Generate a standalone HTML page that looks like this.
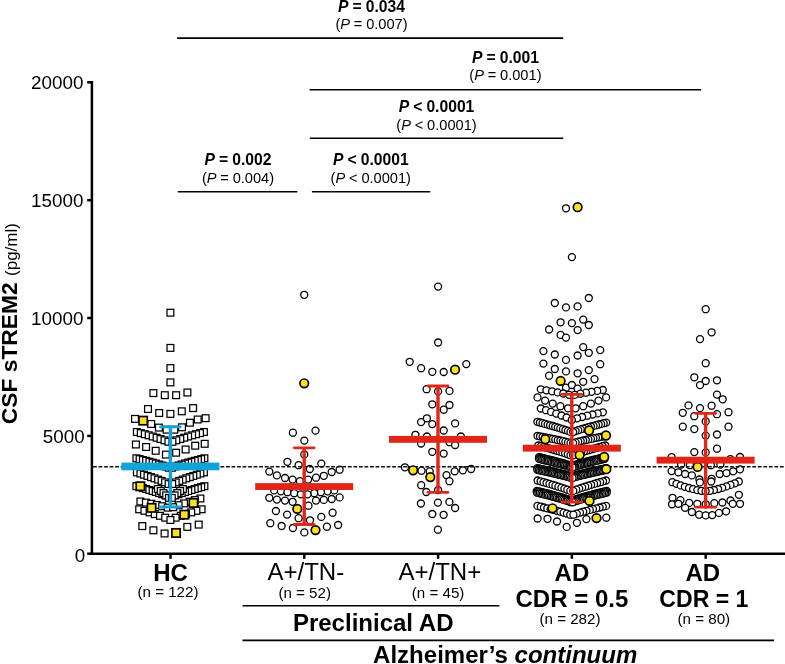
<!DOCTYPE html>
<html><head><meta charset="utf-8"><title>CSF sTREM2</title>
<style>html,body{margin:0;padding:0;background:#fff}svg{display:block}</style></head>
<body>
<svg width="785" height="664" viewBox="0 0 785 664" font-family="'Liberation Sans', Arial, Helvetica, sans-serif">
<rect width="785" height="664" fill="#fff"/>
<rect x="167.0" y="309.3" width="6.8" height="6.8" fill="#fff" stroke="#000" stroke-width="1.25"/>
<rect x="167.0" y="344.5" width="6.8" height="6.8" fill="#fff" stroke="#000" stroke-width="1.25"/>
<rect x="167.0" y="364.7" width="6.8" height="6.8" fill="#fff" stroke="#000" stroke-width="1.25"/>
<rect x="167.0" y="379.0" width="6.8" height="6.8" fill="#fff" stroke="#000" stroke-width="1.25"/>
<rect x="150.0" y="389.7" width="6.8" height="6.8" fill="#fff" stroke="#000" stroke-width="1.25"/>
<rect x="161.4" y="391.8" width="6.8" height="6.8" fill="#fff" stroke="#000" stroke-width="1.25"/>
<rect x="172.7" y="391.8" width="6.8" height="6.8" fill="#fff" stroke="#000" stroke-width="1.25"/>
<rect x="184.0" y="389.1" width="6.8" height="6.8" fill="#fff" stroke="#000" stroke-width="1.25"/>
<rect x="144.6" y="405.6" width="6.8" height="6.8" fill="#fff" stroke="#000" stroke-width="1.25"/>
<rect x="155.8" y="409.6" width="6.8" height="6.8" fill="#fff" stroke="#000" stroke-width="1.25"/>
<rect x="167.0" y="410.5" width="6.8" height="6.8" fill="#fff" stroke="#000" stroke-width="1.25"/>
<rect x="178.4" y="407.9" width="6.8" height="6.8" fill="#fff" stroke="#000" stroke-width="1.25"/>
<rect x="189.7" y="404.7" width="6.8" height="6.8" fill="#fff" stroke="#000" stroke-width="1.25"/>
<rect x="131.6" y="415.5" width="6.8" height="6.8" fill="#fff" stroke="#000" stroke-width="1.25"/>
<rect x="147.8" y="420.6" width="6.8" height="6.8" fill="#fff" stroke="#000" stroke-width="1.25"/>
<rect x="155.5" y="424.2" width="6.8" height="6.8" fill="#fff" stroke="#000" stroke-width="1.25"/>
<rect x="163.2" y="426.3" width="6.8" height="6.8" fill="#fff" stroke="#000" stroke-width="1.25"/>
<rect x="170.9" y="426.3" width="6.8" height="6.8" fill="#fff" stroke="#000" stroke-width="1.25"/>
<rect x="178.6" y="423.9" width="6.8" height="6.8" fill="#fff" stroke="#000" stroke-width="1.25"/>
<rect x="186.5" y="419.3" width="6.8" height="6.8" fill="#fff" stroke="#000" stroke-width="1.25"/>
<rect x="194.3" y="416.1" width="6.8" height="6.8" fill="#fff" stroke="#000" stroke-width="1.25"/>
<rect x="202.2" y="414.8" width="6.8" height="6.8" fill="#fff" stroke="#000" stroke-width="1.25"/>
<rect x="133.5" y="428.6" width="6.8" height="6.8" fill="#fff" stroke="#000" stroke-width="1.25"/>
<rect x="200.5" y="428.6" width="6.8" height="6.8" fill="#fff" stroke="#000" stroke-width="1.25"/>
<rect x="137.4" y="429.7" width="6.8" height="6.8" fill="#fff" stroke="#000" stroke-width="1.25"/>
<rect x="196.6" y="429.7" width="6.8" height="6.8" fill="#fff" stroke="#000" stroke-width="1.25"/>
<rect x="141.4" y="430.8" width="6.8" height="6.8" fill="#fff" stroke="#000" stroke-width="1.25"/>
<rect x="192.6" y="430.8" width="6.8" height="6.8" fill="#fff" stroke="#000" stroke-width="1.25"/>
<rect x="145.3" y="431.9" width="6.8" height="6.8" fill="#fff" stroke="#000" stroke-width="1.25"/>
<rect x="188.7" y="431.9" width="6.8" height="6.8" fill="#fff" stroke="#000" stroke-width="1.25"/>
<rect x="149.3" y="433.1" width="6.8" height="6.8" fill="#fff" stroke="#000" stroke-width="1.25"/>
<rect x="184.7" y="433.1" width="6.8" height="6.8" fill="#fff" stroke="#000" stroke-width="1.25"/>
<rect x="153.2" y="434.3" width="6.8" height="6.8" fill="#fff" stroke="#000" stroke-width="1.25"/>
<rect x="180.8" y="434.3" width="6.8" height="6.8" fill="#fff" stroke="#000" stroke-width="1.25"/>
<rect x="157.1" y="435.6" width="6.8" height="6.8" fill="#fff" stroke="#000" stroke-width="1.25"/>
<rect x="176.9" y="435.6" width="6.8" height="6.8" fill="#fff" stroke="#000" stroke-width="1.25"/>
<rect x="161.1" y="436.9" width="6.8" height="6.8" fill="#fff" stroke="#000" stroke-width="1.25"/>
<rect x="172.9" y="436.9" width="6.8" height="6.8" fill="#fff" stroke="#000" stroke-width="1.25"/>
<rect x="165.0" y="438.4" width="6.8" height="6.8" fill="#fff" stroke="#000" stroke-width="1.25"/>
<rect x="169.0" y="438.4" width="6.8" height="6.8" fill="#fff" stroke="#000" stroke-width="1.25"/>
<rect x="132.5" y="441.1" width="6.8" height="6.8" fill="#fff" stroke="#000" stroke-width="1.25"/>
<rect x="142.7" y="443.6" width="6.8" height="6.8" fill="#fff" stroke="#000" stroke-width="1.25"/>
<rect x="152.3" y="447.4" width="6.8" height="6.8" fill="#fff" stroke="#000" stroke-width="1.25"/>
<rect x="162.5" y="451.2" width="6.8" height="6.8" fill="#fff" stroke="#000" stroke-width="1.25"/>
<rect x="172.7" y="449.3" width="6.8" height="6.8" fill="#fff" stroke="#000" stroke-width="1.25"/>
<rect x="182.2" y="446.1" width="6.8" height="6.8" fill="#fff" stroke="#000" stroke-width="1.25"/>
<rect x="191.8" y="442.3" width="6.8" height="6.8" fill="#fff" stroke="#000" stroke-width="1.25"/>
<rect x="201.3" y="440.4" width="6.8" height="6.8" fill="#fff" stroke="#000" stroke-width="1.25"/>
<rect x="133.0" y="454.9" width="6.8" height="6.8" fill="#fff" stroke="#000" stroke-width="1.25"/>
<rect x="201.0" y="454.9" width="6.8" height="6.8" fill="#fff" stroke="#000" stroke-width="1.25"/>
<rect x="136.2" y="455.7" width="6.8" height="6.8" fill="#fff" stroke="#000" stroke-width="1.25"/>
<rect x="197.8" y="455.7" width="6.8" height="6.8" fill="#fff" stroke="#000" stroke-width="1.25"/>
<rect x="139.5" y="456.6" width="6.8" height="6.8" fill="#fff" stroke="#000" stroke-width="1.25"/>
<rect x="194.5" y="456.6" width="6.8" height="6.8" fill="#fff" stroke="#000" stroke-width="1.25"/>
<rect x="142.7" y="457.4" width="6.8" height="6.8" fill="#fff" stroke="#000" stroke-width="1.25"/>
<rect x="191.3" y="457.4" width="6.8" height="6.8" fill="#fff" stroke="#000" stroke-width="1.25"/>
<rect x="188.0" y="458.3" width="6.8" height="6.8" fill="#fff" stroke="#000" stroke-width="1.25"/>
<rect x="146.0" y="458.3" width="6.8" height="6.8" fill="#fff" stroke="#000" stroke-width="1.25"/>
<rect x="149.2" y="459.2" width="6.8" height="6.8" fill="#fff" stroke="#000" stroke-width="1.25"/>
<rect x="184.8" y="459.2" width="6.8" height="6.8" fill="#fff" stroke="#000" stroke-width="1.25"/>
<rect x="152.4" y="460.1" width="6.8" height="6.8" fill="#fff" stroke="#000" stroke-width="1.25"/>
<rect x="181.6" y="460.1" width="6.8" height="6.8" fill="#fff" stroke="#000" stroke-width="1.25"/>
<rect x="155.7" y="461.1" width="6.8" height="6.8" fill="#fff" stroke="#000" stroke-width="1.25"/>
<rect x="178.3" y="461.1" width="6.8" height="6.8" fill="#fff" stroke="#000" stroke-width="1.25"/>
<rect x="158.9" y="462.1" width="6.8" height="6.8" fill="#fff" stroke="#000" stroke-width="1.25"/>
<rect x="175.1" y="462.1" width="6.8" height="6.8" fill="#fff" stroke="#000" stroke-width="1.25"/>
<rect x="162.1" y="463.1" width="6.8" height="6.8" fill="#fff" stroke="#000" stroke-width="1.25"/>
<rect x="171.9" y="463.1" width="6.8" height="6.8" fill="#fff" stroke="#000" stroke-width="1.25"/>
<rect x="165.4" y="464.3" width="6.8" height="6.8" fill="#fff" stroke="#000" stroke-width="1.25"/>
<rect x="168.6" y="464.3" width="6.8" height="6.8" fill="#fff" stroke="#000" stroke-width="1.25"/>
<rect x="133.5" y="469.0" width="6.8" height="6.8" fill="#fff" stroke="#000" stroke-width="1.25"/>
<rect x="200.5" y="469.0" width="6.8" height="6.8" fill="#fff" stroke="#000" stroke-width="1.25"/>
<rect x="137.0" y="470.1" width="6.8" height="6.8" fill="#fff" stroke="#000" stroke-width="1.25"/>
<rect x="197.0" y="470.1" width="6.8" height="6.8" fill="#fff" stroke="#000" stroke-width="1.25"/>
<rect x="140.6" y="471.3" width="6.8" height="6.8" fill="#fff" stroke="#000" stroke-width="1.25"/>
<rect x="193.4" y="471.3" width="6.8" height="6.8" fill="#fff" stroke="#000" stroke-width="1.25"/>
<rect x="144.1" y="472.5" width="6.8" height="6.8" fill="#fff" stroke="#000" stroke-width="1.25"/>
<rect x="189.9" y="472.5" width="6.8" height="6.8" fill="#fff" stroke="#000" stroke-width="1.25"/>
<rect x="147.6" y="473.7" width="6.8" height="6.8" fill="#fff" stroke="#000" stroke-width="1.25"/>
<rect x="186.4" y="473.7" width="6.8" height="6.8" fill="#fff" stroke="#000" stroke-width="1.25"/>
<rect x="151.1" y="474.9" width="6.8" height="6.8" fill="#fff" stroke="#000" stroke-width="1.25"/>
<rect x="182.9" y="474.9" width="6.8" height="6.8" fill="#fff" stroke="#000" stroke-width="1.25"/>
<rect x="154.7" y="476.2" width="6.8" height="6.8" fill="#fff" stroke="#000" stroke-width="1.25"/>
<rect x="179.3" y="476.2" width="6.8" height="6.8" fill="#fff" stroke="#000" stroke-width="1.25"/>
<rect x="158.2" y="477.5" width="6.8" height="6.8" fill="#fff" stroke="#000" stroke-width="1.25"/>
<rect x="175.8" y="477.5" width="6.8" height="6.8" fill="#fff" stroke="#000" stroke-width="1.25"/>
<rect x="161.7" y="479.0" width="6.8" height="6.8" fill="#fff" stroke="#000" stroke-width="1.25"/>
<rect x="172.3" y="479.0" width="6.8" height="6.8" fill="#fff" stroke="#000" stroke-width="1.25"/>
<rect x="165.2" y="480.6" width="6.8" height="6.8" fill="#fff" stroke="#000" stroke-width="1.25"/>
<rect x="168.8" y="480.6" width="6.8" height="6.8" fill="#fff" stroke="#000" stroke-width="1.25"/>
<rect x="133.0" y="482.8" width="6.8" height="6.8" fill="#fff" stroke="#000" stroke-width="1.25"/>
<rect x="201.0" y="482.8" width="6.8" height="6.8" fill="#fff" stroke="#000" stroke-width="1.25"/>
<rect x="197.8" y="483.7" width="6.8" height="6.8" fill="#fff" stroke="#000" stroke-width="1.25"/>
<rect x="139.5" y="484.7" width="6.8" height="6.8" fill="#fff" stroke="#000" stroke-width="1.25"/>
<rect x="194.5" y="484.7" width="6.8" height="6.8" fill="#fff" stroke="#000" stroke-width="1.25"/>
<rect x="142.7" y="485.6" width="6.8" height="6.8" fill="#fff" stroke="#000" stroke-width="1.25"/>
<rect x="191.3" y="485.6" width="6.8" height="6.8" fill="#fff" stroke="#000" stroke-width="1.25"/>
<rect x="188.0" y="486.6" width="6.8" height="6.8" fill="#fff" stroke="#000" stroke-width="1.25"/>
<rect x="146.0" y="486.6" width="6.8" height="6.8" fill="#fff" stroke="#000" stroke-width="1.25"/>
<rect x="149.2" y="487.6" width="6.8" height="6.8" fill="#fff" stroke="#000" stroke-width="1.25"/>
<rect x="184.8" y="487.6" width="6.8" height="6.8" fill="#fff" stroke="#000" stroke-width="1.25"/>
<rect x="152.4" y="488.6" width="6.8" height="6.8" fill="#fff" stroke="#000" stroke-width="1.25"/>
<rect x="181.6" y="488.6" width="6.8" height="6.8" fill="#fff" stroke="#000" stroke-width="1.25"/>
<rect x="155.7" y="489.7" width="6.8" height="6.8" fill="#fff" stroke="#000" stroke-width="1.25"/>
<rect x="178.3" y="489.7" width="6.8" height="6.8" fill="#fff" stroke="#000" stroke-width="1.25"/>
<rect x="158.9" y="490.8" width="6.8" height="6.8" fill="#fff" stroke="#000" stroke-width="1.25"/>
<rect x="175.1" y="490.8" width="6.8" height="6.8" fill="#fff" stroke="#000" stroke-width="1.25"/>
<rect x="162.1" y="491.9" width="6.8" height="6.8" fill="#fff" stroke="#000" stroke-width="1.25"/>
<rect x="171.9" y="491.9" width="6.8" height="6.8" fill="#fff" stroke="#000" stroke-width="1.25"/>
<rect x="165.4" y="493.3" width="6.8" height="6.8" fill="#fff" stroke="#000" stroke-width="1.25"/>
<rect x="168.6" y="493.3" width="6.8" height="6.8" fill="#fff" stroke="#000" stroke-width="1.25"/>
<rect x="154.5" y="485.6" width="6.8" height="6.8" fill="#fff" stroke="#000" stroke-width="1.25"/>
<rect x="179.5" y="485.6" width="6.8" height="6.8" fill="#fff" stroke="#000" stroke-width="1.25"/>
<rect x="157.3" y="487.6" width="6.8" height="6.8" fill="#fff" stroke="#000" stroke-width="1.25"/>
<rect x="176.7" y="487.6" width="6.8" height="6.8" fill="#fff" stroke="#000" stroke-width="1.25"/>
<rect x="160.1" y="489.7" width="6.8" height="6.8" fill="#fff" stroke="#000" stroke-width="1.25"/>
<rect x="173.9" y="489.7" width="6.8" height="6.8" fill="#fff" stroke="#000" stroke-width="1.25"/>
<rect x="162.8" y="492.0" width="6.8" height="6.8" fill="#fff" stroke="#000" stroke-width="1.25"/>
<rect x="171.2" y="492.0" width="6.8" height="6.8" fill="#fff" stroke="#000" stroke-width="1.25"/>
<rect x="165.6" y="494.5" width="6.8" height="6.8" fill="#fff" stroke="#000" stroke-width="1.25"/>
<rect x="168.4" y="494.5" width="6.8" height="6.8" fill="#fff" stroke="#000" stroke-width="1.25"/>
<rect x="197.0" y="495.1" width="6.8" height="6.8" fill="#fff" stroke="#000" stroke-width="1.25"/>
<rect x="191.5" y="496.7" width="6.8" height="6.8" fill="#fff" stroke="#000" stroke-width="1.25"/>
<rect x="137.0" y="498.1" width="6.8" height="6.8" fill="#fff" stroke="#000" stroke-width="1.25"/>
<rect x="142.5" y="499.2" width="6.8" height="6.8" fill="#fff" stroke="#000" stroke-width="1.25"/>
<rect x="186.1" y="498.3" width="6.8" height="6.8" fill="#fff" stroke="#000" stroke-width="1.25"/>
<rect x="147.9" y="500.3" width="6.8" height="6.8" fill="#fff" stroke="#000" stroke-width="1.25"/>
<rect x="153.4" y="501.5" width="6.8" height="6.8" fill="#fff" stroke="#000" stroke-width="1.25"/>
<rect x="180.6" y="500.0" width="6.8" height="6.8" fill="#fff" stroke="#000" stroke-width="1.25"/>
<rect x="158.8" y="502.8" width="6.8" height="6.8" fill="#fff" stroke="#000" stroke-width="1.25"/>
<rect x="175.2" y="501.8" width="6.8" height="6.8" fill="#fff" stroke="#000" stroke-width="1.25"/>
<rect x="164.3" y="504.2" width="6.8" height="6.8" fill="#fff" stroke="#000" stroke-width="1.25"/>
<rect x="169.7" y="503.8" width="6.8" height="6.8" fill="#fff" stroke="#000" stroke-width="1.25"/>
<rect x="135.8" y="505.9" width="6.8" height="6.8" fill="#fff" stroke="#000" stroke-width="1.25"/>
<rect x="198.2" y="505.9" width="6.8" height="6.8" fill="#fff" stroke="#000" stroke-width="1.25"/>
<rect x="141.0" y="507.4" width="6.8" height="6.8" fill="#fff" stroke="#000" stroke-width="1.25"/>
<rect x="193.0" y="507.4" width="6.8" height="6.8" fill="#fff" stroke="#000" stroke-width="1.25"/>
<rect x="146.2" y="509.0" width="6.8" height="6.8" fill="#fff" stroke="#000" stroke-width="1.25"/>
<rect x="187.8" y="509.0" width="6.8" height="6.8" fill="#fff" stroke="#000" stroke-width="1.25"/>
<rect x="151.4" y="510.7" width="6.8" height="6.8" fill="#fff" stroke="#000" stroke-width="1.25"/>
<rect x="182.6" y="510.7" width="6.8" height="6.8" fill="#fff" stroke="#000" stroke-width="1.25"/>
<rect x="156.6" y="512.4" width="6.8" height="6.8" fill="#fff" stroke="#000" stroke-width="1.25"/>
<rect x="177.4" y="512.4" width="6.8" height="6.8" fill="#fff" stroke="#000" stroke-width="1.25"/>
<rect x="161.8" y="514.3" width="6.8" height="6.8" fill="#fff" stroke="#000" stroke-width="1.25"/>
<rect x="172.2" y="514.3" width="6.8" height="6.8" fill="#fff" stroke="#000" stroke-width="1.25"/>
<rect x="167.0" y="516.6" width="6.8" height="6.8" fill="#fff" stroke="#000" stroke-width="1.25"/>
<rect x="138.9" y="522.7" width="6.8" height="6.8" fill="#fff" stroke="#000" stroke-width="1.25"/>
<rect x="150.0" y="526.9" width="6.8" height="6.8" fill="#fff" stroke="#000" stroke-width="1.25"/>
<rect x="161.2" y="530.1" width="6.8" height="6.8" fill="#fff" stroke="#000" stroke-width="1.25"/>
<rect x="183.9" y="523.5" width="6.8" height="6.8" fill="#fff" stroke="#000" stroke-width="1.25"/>
<rect x="195.3" y="521.2" width="6.8" height="6.8" fill="#fff" stroke="#000" stroke-width="1.25"/>
<circle cx="304.2" cy="294.8" r="3.5" fill="#fff" stroke="#000" stroke-width="1.3"/>
<circle cx="292.9" cy="432.7" r="3.5" fill="#fff" stroke="#000" stroke-width="1.3"/>
<circle cx="315.5" cy="430.6" r="3.5" fill="#fff" stroke="#000" stroke-width="1.3"/>
<circle cx="304.3" cy="440.6" r="3.5" fill="#fff" stroke="#000" stroke-width="1.3"/>
<circle cx="304.3" cy="454.4" r="3.5" fill="#fff" stroke="#000" stroke-width="1.3"/>
<circle cx="287.4" cy="461.8" r="3.5" fill="#fff" stroke="#000" stroke-width="1.3"/>
<circle cx="298.6" cy="465.2" r="3.5" fill="#fff" stroke="#000" stroke-width="1.3"/>
<circle cx="309.8" cy="469.0" r="3.5" fill="#fff" stroke="#000" stroke-width="1.3"/>
<circle cx="321.3" cy="463.6" r="3.5" fill="#fff" stroke="#000" stroke-width="1.3"/>
<circle cx="269.3" cy="471.6" r="3.5" fill="#fff" stroke="#000" stroke-width="1.3"/>
<circle cx="276.9" cy="475.4" r="3.5" fill="#fff" stroke="#000" stroke-width="1.3"/>
<circle cx="285.0" cy="478.0" r="3.5" fill="#fff" stroke="#000" stroke-width="1.3"/>
<circle cx="292.6" cy="479.6" r="3.5" fill="#fff" stroke="#000" stroke-width="1.3"/>
<circle cx="299.9" cy="481.1" r="3.5" fill="#fff" stroke="#000" stroke-width="1.3"/>
<circle cx="308.1" cy="479.6" r="3.5" fill="#fff" stroke="#000" stroke-width="1.3"/>
<circle cx="316.0" cy="477.7" r="3.5" fill="#fff" stroke="#000" stroke-width="1.3"/>
<circle cx="323.8" cy="475.8" r="3.5" fill="#fff" stroke="#000" stroke-width="1.3"/>
<circle cx="331.7" cy="472.0" r="3.5" fill="#fff" stroke="#000" stroke-width="1.3"/>
<circle cx="339.6" cy="469.7" r="3.5" fill="#fff" stroke="#000" stroke-width="1.3"/>
<circle cx="274.2" cy="490.4" r="3.5" fill="#fff" stroke="#000" stroke-width="1.3"/>
<circle cx="334.2" cy="490.4" r="3.5" fill="#fff" stroke="#000" stroke-width="1.3"/>
<circle cx="280.9" cy="491.3" r="3.5" fill="#fff" stroke="#000" stroke-width="1.3"/>
<circle cx="327.5" cy="491.3" r="3.5" fill="#fff" stroke="#000" stroke-width="1.3"/>
<circle cx="287.5" cy="492.2" r="3.5" fill="#fff" stroke="#000" stroke-width="1.3"/>
<circle cx="320.9" cy="492.2" r="3.5" fill="#fff" stroke="#000" stroke-width="1.3"/>
<circle cx="294.2" cy="493.2" r="3.5" fill="#fff" stroke="#000" stroke-width="1.3"/>
<circle cx="314.2" cy="493.2" r="3.5" fill="#fff" stroke="#000" stroke-width="1.3"/>
<circle cx="300.9" cy="494.3" r="3.5" fill="#fff" stroke="#000" stroke-width="1.3"/>
<circle cx="307.5" cy="494.3" r="3.5" fill="#fff" stroke="#000" stroke-width="1.3"/>
<circle cx="269.3" cy="497.8" r="3.5" fill="#fff" stroke="#000" stroke-width="1.3"/>
<circle cx="276.9" cy="499.6" r="3.5" fill="#fff" stroke="#000" stroke-width="1.3"/>
<circle cx="285.0" cy="500.6" r="3.5" fill="#fff" stroke="#000" stroke-width="1.3"/>
<circle cx="292.6" cy="501.8" r="3.5" fill="#fff" stroke="#000" stroke-width="1.3"/>
<circle cx="308.5" cy="505.7" r="3.5" fill="#fff" stroke="#000" stroke-width="1.3"/>
<circle cx="316.0" cy="500.6" r="3.5" fill="#fff" stroke="#000" stroke-width="1.3"/>
<circle cx="323.8" cy="499.9" r="3.5" fill="#fff" stroke="#000" stroke-width="1.3"/>
<circle cx="331.7" cy="499.0" r="3.5" fill="#fff" stroke="#000" stroke-width="1.3"/>
<circle cx="339.6" cy="497.4" r="3.5" fill="#fff" stroke="#000" stroke-width="1.3"/>
<circle cx="275.9" cy="511.0" r="3.5" fill="#fff" stroke="#000" stroke-width="1.3"/>
<circle cx="287.1" cy="514.6" r="3.5" fill="#fff" stroke="#000" stroke-width="1.3"/>
<circle cx="298.6" cy="518.2" r="3.5" fill="#fff" stroke="#000" stroke-width="1.3"/>
<circle cx="310.0" cy="520.3" r="3.5" fill="#fff" stroke="#000" stroke-width="1.3"/>
<circle cx="321.3" cy="516.9" r="3.5" fill="#fff" stroke="#000" stroke-width="1.3"/>
<circle cx="332.6" cy="512.7" r="3.5" fill="#fff" stroke="#000" stroke-width="1.3"/>
<circle cx="270.3" cy="523.2" r="3.5" fill="#fff" stroke="#000" stroke-width="1.3"/>
<circle cx="281.6" cy="526.0" r="3.5" fill="#fff" stroke="#000" stroke-width="1.3"/>
<circle cx="292.9" cy="528.0" r="3.5" fill="#fff" stroke="#000" stroke-width="1.3"/>
<circle cx="304.3" cy="532.4" r="3.5" fill="#fff" stroke="#000" stroke-width="1.3"/>
<circle cx="326.9" cy="526.7" r="3.5" fill="#fff" stroke="#000" stroke-width="1.3"/>
<circle cx="338.1" cy="525.0" r="3.5" fill="#fff" stroke="#000" stroke-width="1.3"/>
<circle cx="438.1" cy="286.6" r="3.5" fill="#fff" stroke="#000" stroke-width="1.3"/>
<circle cx="438.1" cy="342.5" r="3.5" fill="#fff" stroke="#000" stroke-width="1.3"/>
<circle cx="409.7" cy="361.8" r="3.5" fill="#fff" stroke="#000" stroke-width="1.3"/>
<circle cx="421.1" cy="368.2" r="3.5" fill="#fff" stroke="#000" stroke-width="1.3"/>
<circle cx="432.3" cy="371.8" r="3.5" fill="#fff" stroke="#000" stroke-width="1.3"/>
<circle cx="443.7" cy="372.0" r="3.5" fill="#fff" stroke="#000" stroke-width="1.3"/>
<circle cx="466.3" cy="364.1" r="3.5" fill="#fff" stroke="#000" stroke-width="1.3"/>
<circle cx="426.6" cy="389.2" r="3.5" fill="#fff" stroke="#000" stroke-width="1.3"/>
<circle cx="438.1" cy="391.4" r="3.5" fill="#fff" stroke="#000" stroke-width="1.3"/>
<circle cx="449.5" cy="390.9" r="3.5" fill="#fff" stroke="#000" stroke-width="1.3"/>
<circle cx="432.3" cy="404.3" r="3.5" fill="#fff" stroke="#000" stroke-width="1.3"/>
<circle cx="443.7" cy="409.7" r="3.5" fill="#fff" stroke="#000" stroke-width="1.3"/>
<circle cx="449.5" cy="405.0" r="3.5" fill="#fff" stroke="#000" stroke-width="1.3"/>
<circle cx="421.1" cy="422.1" r="3.5" fill="#fff" stroke="#000" stroke-width="1.3"/>
<circle cx="426.9" cy="418.3" r="3.5" fill="#fff" stroke="#000" stroke-width="1.3"/>
<circle cx="432.3" cy="424.1" r="3.5" fill="#fff" stroke="#000" stroke-width="1.3"/>
<circle cx="443.7" cy="430.5" r="3.5" fill="#fff" stroke="#000" stroke-width="1.3"/>
<circle cx="455.1" cy="423.4" r="3.5" fill="#fff" stroke="#000" stroke-width="1.3"/>
<circle cx="415.4" cy="434.8" r="3.5" fill="#fff" stroke="#000" stroke-width="1.3"/>
<circle cx="426.9" cy="436.5" r="3.5" fill="#fff" stroke="#000" stroke-width="1.3"/>
<circle cx="460.9" cy="436.5" r="3.5" fill="#fff" stroke="#000" stroke-width="1.3"/>
<circle cx="421.1" cy="443.5" r="3.5" fill="#fff" stroke="#000" stroke-width="1.3"/>
<circle cx="449.5" cy="442.2" r="3.5" fill="#fff" stroke="#000" stroke-width="1.3"/>
<circle cx="455.1" cy="445.0" r="3.5" fill="#fff" stroke="#000" stroke-width="1.3"/>
<circle cx="432.3" cy="451.8" r="3.5" fill="#fff" stroke="#000" stroke-width="1.3"/>
<circle cx="443.7" cy="453.6" r="3.5" fill="#fff" stroke="#000" stroke-width="1.3"/>
<circle cx="404.9" cy="467.3" r="3.5" fill="#fff" stroke="#000" stroke-width="1.3"/>
<circle cx="421.5" cy="470.7" r="3.5" fill="#fff" stroke="#000" stroke-width="1.3"/>
<circle cx="429.7" cy="471.4" r="3.5" fill="#fff" stroke="#000" stroke-width="1.3"/>
<circle cx="446.5" cy="475.1" r="3.5" fill="#fff" stroke="#000" stroke-width="1.3"/>
<circle cx="454.7" cy="471.3" r="3.5" fill="#fff" stroke="#000" stroke-width="1.3"/>
<circle cx="462.9" cy="470.3" r="3.5" fill="#fff" stroke="#000" stroke-width="1.3"/>
<circle cx="471.1" cy="469.0" r="3.5" fill="#fff" stroke="#000" stroke-width="1.3"/>
<circle cx="449.4" cy="481.2" r="3.5" fill="#fff" stroke="#000" stroke-width="1.3"/>
<circle cx="421.2" cy="485.2" r="3.5" fill="#fff" stroke="#000" stroke-width="1.3"/>
<circle cx="426.3" cy="492.0" r="3.5" fill="#fff" stroke="#000" stroke-width="1.3"/>
<circle cx="438.1" cy="490.0" r="3.5" fill="#fff" stroke="#000" stroke-width="1.3"/>
<circle cx="420.9" cy="503.5" r="3.5" fill="#fff" stroke="#000" stroke-width="1.3"/>
<circle cx="437.9" cy="502.6" r="3.5" fill="#fff" stroke="#000" stroke-width="1.3"/>
<circle cx="449.4" cy="501.9" r="3.5" fill="#fff" stroke="#000" stroke-width="1.3"/>
<circle cx="455.1" cy="508.0" r="3.5" fill="#fff" stroke="#000" stroke-width="1.3"/>
<circle cx="432.3" cy="514.0" r="3.5" fill="#fff" stroke="#000" stroke-width="1.3"/>
<circle cx="443.6" cy="514.8" r="3.5" fill="#fff" stroke="#000" stroke-width="1.3"/>
<circle cx="437.9" cy="529.7" r="3.5" fill="#fff" stroke="#000" stroke-width="1.3"/>
<circle cx="566.0" cy="208.3" r="3.5" fill="#fff" stroke="#000" stroke-width="1.3"/>
<circle cx="571.9" cy="257.1" r="3.5" fill="#fff" stroke="#000" stroke-width="1.3"/>
<circle cx="554.8" cy="303.0" r="3.5" fill="#fff" stroke="#000" stroke-width="1.3"/>
<circle cx="566.0" cy="307.4" r="3.5" fill="#fff" stroke="#000" stroke-width="1.3"/>
<circle cx="577.6" cy="306.4" r="3.5" fill="#fff" stroke="#000" stroke-width="1.3"/>
<circle cx="588.8" cy="298.0" r="3.5" fill="#fff" stroke="#000" stroke-width="1.3"/>
<circle cx="560.6" cy="322.3" r="3.5" fill="#fff" stroke="#000" stroke-width="1.3"/>
<circle cx="571.9" cy="323.1" r="3.5" fill="#fff" stroke="#000" stroke-width="1.3"/>
<circle cx="583.2" cy="319.6" r="3.5" fill="#fff" stroke="#000" stroke-width="1.3"/>
<circle cx="588.8" cy="325.0" r="3.5" fill="#fff" stroke="#000" stroke-width="1.3"/>
<circle cx="549.1" cy="329.5" r="3.5" fill="#fff" stroke="#000" stroke-width="1.3"/>
<circle cx="560.6" cy="334.9" r="3.5" fill="#fff" stroke="#000" stroke-width="1.3"/>
<circle cx="566.0" cy="337.6" r="3.5" fill="#fff" stroke="#000" stroke-width="1.3"/>
<circle cx="577.6" cy="330.1" r="3.5" fill="#fff" stroke="#000" stroke-width="1.3"/>
<circle cx="543.4" cy="351.1" r="3.5" fill="#fff" stroke="#000" stroke-width="1.3"/>
<circle cx="554.8" cy="354.5" r="3.5" fill="#fff" stroke="#000" stroke-width="1.3"/>
<circle cx="566.0" cy="359.9" r="3.5" fill="#fff" stroke="#000" stroke-width="1.3"/>
<circle cx="577.6" cy="355.5" r="3.5" fill="#fff" stroke="#000" stroke-width="1.3"/>
<circle cx="583.2" cy="347.1" r="3.5" fill="#fff" stroke="#000" stroke-width="1.3"/>
<circle cx="588.8" cy="352.8" r="3.5" fill="#fff" stroke="#000" stroke-width="1.3"/>
<circle cx="600.2" cy="350.1" r="3.5" fill="#fff" stroke="#000" stroke-width="1.3"/>
<circle cx="543.4" cy="363.6" r="3.5" fill="#fff" stroke="#000" stroke-width="1.3"/>
<circle cx="554.8" cy="369.0" r="3.5" fill="#fff" stroke="#000" stroke-width="1.3"/>
<circle cx="566.0" cy="371.4" r="3.5" fill="#fff" stroke="#000" stroke-width="1.3"/>
<circle cx="577.6" cy="373.3" r="3.5" fill="#fff" stroke="#000" stroke-width="1.3"/>
<circle cx="588.8" cy="370.1" r="3.5" fill="#fff" stroke="#000" stroke-width="1.3"/>
<circle cx="600.2" cy="364.2" r="3.5" fill="#fff" stroke="#000" stroke-width="1.3"/>
<circle cx="549.1" cy="375.7" r="3.5" fill="#fff" stroke="#000" stroke-width="1.3"/>
<circle cx="566.0" cy="387.7" r="3.5" fill="#fff" stroke="#000" stroke-width="1.3"/>
<circle cx="571.9" cy="385.0" r="3.5" fill="#fff" stroke="#000" stroke-width="1.3"/>
<circle cx="577.6" cy="388.6" r="3.5" fill="#fff" stroke="#000" stroke-width="1.3"/>
<circle cx="583.2" cy="381.8" r="3.5" fill="#fff" stroke="#000" stroke-width="1.3"/>
<circle cx="594.5" cy="379.1" r="3.5" fill="#fff" stroke="#000" stroke-width="1.3"/>
<circle cx="540.8" cy="389.3" r="3.5" fill="#fff" stroke="#000" stroke-width="1.3"/>
<circle cx="602.8" cy="390.0" r="3.5" fill="#fff" stroke="#000" stroke-width="1.3"/>
<circle cx="546.4" cy="390.3" r="3.5" fill="#fff" stroke="#000" stroke-width="1.3"/>
<circle cx="597.2" cy="390.9" r="3.5" fill="#fff" stroke="#000" stroke-width="1.3"/>
<circle cx="552.1" cy="391.3" r="3.5" fill="#fff" stroke="#000" stroke-width="1.3"/>
<circle cx="591.5" cy="391.8" r="3.5" fill="#fff" stroke="#000" stroke-width="1.3"/>
<circle cx="557.7" cy="392.4" r="3.5" fill="#fff" stroke="#000" stroke-width="1.3"/>
<circle cx="585.9" cy="392.7" r="3.5" fill="#fff" stroke="#000" stroke-width="1.3"/>
<circle cx="563.3" cy="393.5" r="3.5" fill="#fff" stroke="#000" stroke-width="1.3"/>
<circle cx="580.3" cy="393.7" r="3.5" fill="#fff" stroke="#000" stroke-width="1.3"/>
<circle cx="569.0" cy="394.8" r="3.5" fill="#fff" stroke="#000" stroke-width="1.3"/>
<circle cx="574.6" cy="394.9" r="3.5" fill="#fff" stroke="#000" stroke-width="1.3"/>
<circle cx="537.5" cy="397.4" r="3.5" fill="#fff" stroke="#000" stroke-width="1.3"/>
<circle cx="606.1" cy="397.4" r="3.5" fill="#fff" stroke="#000" stroke-width="1.3"/>
<circle cx="545.1" cy="400.6" r="3.5" fill="#fff" stroke="#000" stroke-width="1.3"/>
<circle cx="598.5" cy="400.6" r="3.5" fill="#fff" stroke="#000" stroke-width="1.3"/>
<circle cx="552.7" cy="403.6" r="3.5" fill="#fff" stroke="#000" stroke-width="1.3"/>
<circle cx="590.9" cy="403.6" r="3.5" fill="#fff" stroke="#000" stroke-width="1.3"/>
<circle cx="560.4" cy="406.2" r="3.5" fill="#fff" stroke="#000" stroke-width="1.3"/>
<circle cx="583.2" cy="406.2" r="3.5" fill="#fff" stroke="#000" stroke-width="1.3"/>
<circle cx="568.0" cy="408.3" r="3.5" fill="#fff" stroke="#000" stroke-width="1.3"/>
<circle cx="575.6" cy="408.3" r="3.5" fill="#fff" stroke="#000" stroke-width="1.3"/>
<circle cx="540.8" cy="408.5" r="3.5" fill="#fff" stroke="#000" stroke-width="1.3"/>
<circle cx="546.0" cy="410.2" r="3.5" fill="#fff" stroke="#000" stroke-width="1.3"/>
<circle cx="602.8" cy="412.3" r="3.5" fill="#fff" stroke="#000" stroke-width="1.3"/>
<circle cx="551.1" cy="411.9" r="3.5" fill="#fff" stroke="#000" stroke-width="1.3"/>
<circle cx="597.6" cy="413.4" r="3.5" fill="#fff" stroke="#000" stroke-width="1.3"/>
<circle cx="592.5" cy="414.5" r="3.5" fill="#fff" stroke="#000" stroke-width="1.3"/>
<circle cx="556.3" cy="413.6" r="3.5" fill="#fff" stroke="#000" stroke-width="1.3"/>
<circle cx="587.3" cy="415.7" r="3.5" fill="#fff" stroke="#000" stroke-width="1.3"/>
<circle cx="561.5" cy="415.5" r="3.5" fill="#fff" stroke="#000" stroke-width="1.3"/>
<circle cx="582.1" cy="417.0" r="3.5" fill="#fff" stroke="#000" stroke-width="1.3"/>
<circle cx="566.6" cy="417.5" r="3.5" fill="#fff" stroke="#000" stroke-width="1.3"/>
<circle cx="577.0" cy="418.3" r="3.5" fill="#fff" stroke="#000" stroke-width="1.3"/>
<circle cx="571.8" cy="420.0" r="3.5" fill="#fff" stroke="#000" stroke-width="1.3"/>
<circle cx="537.4" cy="421.8" r="3.5" fill="#fff" stroke="#000" stroke-width="1.3"/>
<circle cx="606.2" cy="422.6" r="3.5" fill="#fff" stroke="#000" stroke-width="1.3"/>
<circle cx="539.9" cy="422.5" r="3.5" fill="#fff" stroke="#000" stroke-width="1.3"/>
<circle cx="603.7" cy="423.2" r="3.5" fill="#fff" stroke="#000" stroke-width="1.3"/>
<circle cx="542.5" cy="423.2" r="3.5" fill="#fff" stroke="#000" stroke-width="1.3"/>
<circle cx="601.1" cy="423.9" r="3.5" fill="#fff" stroke="#000" stroke-width="1.3"/>
<circle cx="545.0" cy="423.9" r="3.5" fill="#fff" stroke="#000" stroke-width="1.3"/>
<circle cx="598.6" cy="424.5" r="3.5" fill="#fff" stroke="#000" stroke-width="1.3"/>
<circle cx="547.6" cy="424.6" r="3.5" fill="#fff" stroke="#000" stroke-width="1.3"/>
<circle cx="596.0" cy="425.2" r="3.5" fill="#fff" stroke="#000" stroke-width="1.3"/>
<circle cx="550.1" cy="425.3" r="3.5" fill="#fff" stroke="#000" stroke-width="1.3"/>
<circle cx="593.5" cy="425.9" r="3.5" fill="#fff" stroke="#000" stroke-width="1.3"/>
<circle cx="552.7" cy="426.0" r="3.5" fill="#fff" stroke="#000" stroke-width="1.3"/>
<circle cx="590.9" cy="426.5" r="3.5" fill="#fff" stroke="#000" stroke-width="1.3"/>
<circle cx="555.2" cy="426.8" r="3.5" fill="#fff" stroke="#000" stroke-width="1.3"/>
<circle cx="588.4" cy="427.2" r="3.5" fill="#fff" stroke="#000" stroke-width="1.3"/>
<circle cx="557.8" cy="427.6" r="3.5" fill="#fff" stroke="#000" stroke-width="1.3"/>
<circle cx="585.8" cy="427.9" r="3.5" fill="#fff" stroke="#000" stroke-width="1.3"/>
<circle cx="560.3" cy="428.4" r="3.5" fill="#fff" stroke="#000" stroke-width="1.3"/>
<circle cx="583.3" cy="428.7" r="3.5" fill="#fff" stroke="#000" stroke-width="1.3"/>
<circle cx="562.9" cy="429.2" r="3.5" fill="#fff" stroke="#000" stroke-width="1.3"/>
<circle cx="580.7" cy="429.4" r="3.5" fill="#fff" stroke="#000" stroke-width="1.3"/>
<circle cx="565.4" cy="430.0" r="3.5" fill="#fff" stroke="#000" stroke-width="1.3"/>
<circle cx="578.2" cy="430.2" r="3.5" fill="#fff" stroke="#000" stroke-width="1.3"/>
<circle cx="568.0" cy="430.9" r="3.5" fill="#fff" stroke="#000" stroke-width="1.3"/>
<circle cx="575.6" cy="431.1" r="3.5" fill="#fff" stroke="#000" stroke-width="1.3"/>
<circle cx="570.5" cy="431.9" r="3.5" fill="#fff" stroke="#000" stroke-width="1.3"/>
<circle cx="573.1" cy="432.0" r="3.5" fill="#fff" stroke="#000" stroke-width="1.3"/>
<circle cx="537.5" cy="435.8" r="3.5" fill="#fff" stroke="#000" stroke-width="1.3"/>
<circle cx="606.1" cy="435.8" r="3.5" fill="#fff" stroke="#000" stroke-width="1.3"/>
<circle cx="540.0" cy="436.3" r="3.5" fill="#fff" stroke="#000" stroke-width="1.3"/>
<circle cx="603.6" cy="436.3" r="3.5" fill="#fff" stroke="#000" stroke-width="1.3"/>
<circle cx="542.6" cy="436.8" r="3.5" fill="#fff" stroke="#000" stroke-width="1.3"/>
<circle cx="601.0" cy="436.8" r="3.5" fill="#fff" stroke="#000" stroke-width="1.3"/>
<circle cx="545.1" cy="437.3" r="3.5" fill="#fff" stroke="#000" stroke-width="1.3"/>
<circle cx="598.5" cy="437.3" r="3.5" fill="#fff" stroke="#000" stroke-width="1.3"/>
<circle cx="547.7" cy="437.8" r="3.5" fill="#fff" stroke="#000" stroke-width="1.3"/>
<circle cx="595.9" cy="437.8" r="3.5" fill="#fff" stroke="#000" stroke-width="1.3"/>
<circle cx="550.2" cy="438.3" r="3.5" fill="#fff" stroke="#000" stroke-width="1.3"/>
<circle cx="593.4" cy="438.3" r="3.5" fill="#fff" stroke="#000" stroke-width="1.3"/>
<circle cx="552.7" cy="438.9" r="3.5" fill="#fff" stroke="#000" stroke-width="1.3"/>
<circle cx="590.9" cy="438.9" r="3.5" fill="#fff" stroke="#000" stroke-width="1.3"/>
<circle cx="555.3" cy="439.4" r="3.5" fill="#fff" stroke="#000" stroke-width="1.3"/>
<circle cx="588.3" cy="439.4" r="3.5" fill="#fff" stroke="#000" stroke-width="1.3"/>
<circle cx="557.8" cy="440.0" r="3.5" fill="#fff" stroke="#000" stroke-width="1.3"/>
<circle cx="585.8" cy="440.0" r="3.5" fill="#fff" stroke="#000" stroke-width="1.3"/>
<circle cx="560.4" cy="440.5" r="3.5" fill="#fff" stroke="#000" stroke-width="1.3"/>
<circle cx="583.2" cy="440.5" r="3.5" fill="#fff" stroke="#000" stroke-width="1.3"/>
<circle cx="562.9" cy="441.1" r="3.5" fill="#fff" stroke="#000" stroke-width="1.3"/>
<circle cx="580.7" cy="441.1" r="3.5" fill="#fff" stroke="#000" stroke-width="1.3"/>
<circle cx="565.4" cy="441.7" r="3.5" fill="#fff" stroke="#000" stroke-width="1.3"/>
<circle cx="578.2" cy="441.7" r="3.5" fill="#fff" stroke="#000" stroke-width="1.3"/>
<circle cx="568.0" cy="442.4" r="3.5" fill="#fff" stroke="#000" stroke-width="1.3"/>
<circle cx="575.6" cy="442.4" r="3.5" fill="#fff" stroke="#000" stroke-width="1.3"/>
<circle cx="570.5" cy="443.1" r="3.5" fill="#fff" stroke="#000" stroke-width="1.3"/>
<circle cx="573.1" cy="443.1" r="3.5" fill="#fff" stroke="#000" stroke-width="1.3"/>
<circle cx="538.3" cy="445.5" r="3.5" fill="#fff" stroke="#000" stroke-width="1.3"/>
<circle cx="605.3" cy="445.5" r="3.5" fill="#fff" stroke="#000" stroke-width="1.3"/>
<circle cx="541.0" cy="446.2" r="3.5" fill="#fff" stroke="#000" stroke-width="1.3"/>
<circle cx="602.6" cy="446.2" r="3.5" fill="#fff" stroke="#000" stroke-width="1.3"/>
<circle cx="543.7" cy="446.9" r="3.5" fill="#fff" stroke="#000" stroke-width="1.3"/>
<circle cx="599.9" cy="446.9" r="3.5" fill="#fff" stroke="#000" stroke-width="1.3"/>
<circle cx="546.3" cy="447.7" r="3.5" fill="#fff" stroke="#000" stroke-width="1.3"/>
<circle cx="597.3" cy="447.7" r="3.5" fill="#fff" stroke="#000" stroke-width="1.3"/>
<circle cx="549.0" cy="448.4" r="3.5" fill="#fff" stroke="#000" stroke-width="1.3"/>
<circle cx="594.6" cy="448.4" r="3.5" fill="#fff" stroke="#000" stroke-width="1.3"/>
<circle cx="551.7" cy="449.2" r="3.5" fill="#fff" stroke="#000" stroke-width="1.3"/>
<circle cx="591.9" cy="449.2" r="3.5" fill="#fff" stroke="#000" stroke-width="1.3"/>
<circle cx="554.4" cy="450.0" r="3.5" fill="#fff" stroke="#000" stroke-width="1.3"/>
<circle cx="589.2" cy="450.0" r="3.5" fill="#fff" stroke="#000" stroke-width="1.3"/>
<circle cx="557.1" cy="450.8" r="3.5" fill="#fff" stroke="#000" stroke-width="1.3"/>
<circle cx="586.5" cy="450.8" r="3.5" fill="#fff" stroke="#000" stroke-width="1.3"/>
<circle cx="559.7" cy="451.6" r="3.5" fill="#fff" stroke="#000" stroke-width="1.3"/>
<circle cx="583.9" cy="451.6" r="3.5" fill="#fff" stroke="#000" stroke-width="1.3"/>
<circle cx="562.4" cy="452.4" r="3.5" fill="#fff" stroke="#000" stroke-width="1.3"/>
<circle cx="581.2" cy="452.4" r="3.5" fill="#fff" stroke="#000" stroke-width="1.3"/>
<circle cx="565.1" cy="453.3" r="3.5" fill="#fff" stroke="#000" stroke-width="1.3"/>
<circle cx="578.5" cy="453.3" r="3.5" fill="#fff" stroke="#000" stroke-width="1.3"/>
<circle cx="567.8" cy="454.3" r="3.5" fill="#fff" stroke="#000" stroke-width="1.3"/>
<circle cx="575.8" cy="454.3" r="3.5" fill="#fff" stroke="#000" stroke-width="1.3"/>
<circle cx="570.5" cy="455.3" r="3.5" fill="#fff" stroke="#000" stroke-width="1.3"/>
<circle cx="573.1" cy="455.3" r="3.5" fill="#fff" stroke="#000" stroke-width="1.3"/>
<circle cx="539.0" cy="457.2" r="3.5" fill="#fff" stroke="#000" stroke-width="1.3"/>
<circle cx="539.0" cy="458.8" r="3.5" fill="#fff" stroke="#000" stroke-width="1.3"/>
<circle cx="604.6" cy="457.2" r="3.5" fill="#fff" stroke="#000" stroke-width="1.3"/>
<circle cx="604.6" cy="458.8" r="3.5" fill="#fff" stroke="#000" stroke-width="1.3"/>
<circle cx="540.5" cy="457.5" r="3.5" fill="#fff" stroke="#000" stroke-width="1.3"/>
<circle cx="603.1" cy="457.5" r="3.5" fill="#fff" stroke="#000" stroke-width="1.3"/>
<circle cx="541.9" cy="457.9" r="3.5" fill="#fff" stroke="#000" stroke-width="1.3"/>
<circle cx="601.7" cy="457.9" r="3.5" fill="#fff" stroke="#000" stroke-width="1.3"/>
<circle cx="543.4" cy="458.2" r="3.5" fill="#fff" stroke="#000" stroke-width="1.3"/>
<circle cx="600.2" cy="458.2" r="3.5" fill="#fff" stroke="#000" stroke-width="1.3"/>
<circle cx="544.8" cy="458.6" r="3.5" fill="#fff" stroke="#000" stroke-width="1.3"/>
<circle cx="598.8" cy="458.6" r="3.5" fill="#fff" stroke="#000" stroke-width="1.3"/>
<circle cx="546.3" cy="458.9" r="3.5" fill="#fff" stroke="#000" stroke-width="1.3"/>
<circle cx="597.3" cy="458.9" r="3.5" fill="#fff" stroke="#000" stroke-width="1.3"/>
<circle cx="540.5" cy="459.1" r="3.5" fill="#fff" stroke="#000" stroke-width="1.3"/>
<circle cx="603.1" cy="459.1" r="3.5" fill="#fff" stroke="#000" stroke-width="1.3"/>
<circle cx="541.9" cy="459.5" r="3.5" fill="#fff" stroke="#000" stroke-width="1.3"/>
<circle cx="601.7" cy="459.5" r="3.5" fill="#fff" stroke="#000" stroke-width="1.3"/>
<circle cx="543.4" cy="459.8" r="3.5" fill="#fff" stroke="#000" stroke-width="1.3"/>
<circle cx="600.2" cy="459.8" r="3.5" fill="#fff" stroke="#000" stroke-width="1.3"/>
<circle cx="544.8" cy="460.2" r="3.5" fill="#fff" stroke="#000" stroke-width="1.3"/>
<circle cx="598.8" cy="460.2" r="3.5" fill="#fff" stroke="#000" stroke-width="1.3"/>
<circle cx="546.3" cy="460.5" r="3.5" fill="#fff" stroke="#000" stroke-width="1.3"/>
<circle cx="597.3" cy="460.5" r="3.5" fill="#fff" stroke="#000" stroke-width="1.3"/>
<circle cx="547.7" cy="459.3" r="3.5" fill="#fff" stroke="#000" stroke-width="1.3"/>
<circle cx="547.7" cy="460.9" r="3.5" fill="#fff" stroke="#000" stroke-width="1.3"/>
<circle cx="595.9" cy="459.3" r="3.5" fill="#fff" stroke="#000" stroke-width="1.3"/>
<circle cx="595.9" cy="460.9" r="3.5" fill="#fff" stroke="#000" stroke-width="1.3"/>
<circle cx="549.2" cy="459.6" r="3.5" fill="#fff" stroke="#000" stroke-width="1.3"/>
<circle cx="594.4" cy="459.6" r="3.5" fill="#fff" stroke="#000" stroke-width="1.3"/>
<circle cx="550.7" cy="460.0" r="3.5" fill="#fff" stroke="#000" stroke-width="1.3"/>
<circle cx="592.9" cy="460.0" r="3.5" fill="#fff" stroke="#000" stroke-width="1.3"/>
<circle cx="552.1" cy="460.4" r="3.5" fill="#fff" stroke="#000" stroke-width="1.3"/>
<circle cx="591.5" cy="460.4" r="3.5" fill="#fff" stroke="#000" stroke-width="1.3"/>
<circle cx="553.6" cy="460.7" r="3.5" fill="#fff" stroke="#000" stroke-width="1.3"/>
<circle cx="590.0" cy="460.7" r="3.5" fill="#fff" stroke="#000" stroke-width="1.3"/>
<circle cx="549.2" cy="461.2" r="3.5" fill="#fff" stroke="#000" stroke-width="1.3"/>
<circle cx="594.4" cy="461.2" r="3.5" fill="#fff" stroke="#000" stroke-width="1.3"/>
<circle cx="550.7" cy="461.6" r="3.5" fill="#fff" stroke="#000" stroke-width="1.3"/>
<circle cx="592.9" cy="461.6" r="3.5" fill="#fff" stroke="#000" stroke-width="1.3"/>
<circle cx="552.1" cy="462.0" r="3.5" fill="#fff" stroke="#000" stroke-width="1.3"/>
<circle cx="591.5" cy="462.0" r="3.5" fill="#fff" stroke="#000" stroke-width="1.3"/>
<circle cx="553.6" cy="462.3" r="3.5" fill="#fff" stroke="#000" stroke-width="1.3"/>
<circle cx="590.0" cy="462.3" r="3.5" fill="#fff" stroke="#000" stroke-width="1.3"/>
<circle cx="555.0" cy="461.1" r="3.5" fill="#fff" stroke="#000" stroke-width="1.3"/>
<circle cx="555.0" cy="462.7" r="3.5" fill="#fff" stroke="#000" stroke-width="1.3"/>
<circle cx="588.6" cy="461.1" r="3.5" fill="#fff" stroke="#000" stroke-width="1.3"/>
<circle cx="588.6" cy="462.7" r="3.5" fill="#fff" stroke="#000" stroke-width="1.3"/>
<circle cx="556.5" cy="461.5" r="3.5" fill="#fff" stroke="#000" stroke-width="1.3"/>
<circle cx="587.1" cy="461.5" r="3.5" fill="#fff" stroke="#000" stroke-width="1.3"/>
<circle cx="558.0" cy="461.9" r="3.5" fill="#fff" stroke="#000" stroke-width="1.3"/>
<circle cx="585.6" cy="461.9" r="3.5" fill="#fff" stroke="#000" stroke-width="1.3"/>
<circle cx="559.4" cy="462.3" r="3.5" fill="#fff" stroke="#000" stroke-width="1.3"/>
<circle cx="584.2" cy="462.3" r="3.5" fill="#fff" stroke="#000" stroke-width="1.3"/>
<circle cx="560.9" cy="462.7" r="3.5" fill="#fff" stroke="#000" stroke-width="1.3"/>
<circle cx="582.7" cy="462.7" r="3.5" fill="#fff" stroke="#000" stroke-width="1.3"/>
<circle cx="556.5" cy="463.1" r="3.5" fill="#fff" stroke="#000" stroke-width="1.3"/>
<circle cx="587.1" cy="463.1" r="3.5" fill="#fff" stroke="#000" stroke-width="1.3"/>
<circle cx="558.0" cy="463.5" r="3.5" fill="#fff" stroke="#000" stroke-width="1.3"/>
<circle cx="585.6" cy="463.5" r="3.5" fill="#fff" stroke="#000" stroke-width="1.3"/>
<circle cx="559.4" cy="463.9" r="3.5" fill="#fff" stroke="#000" stroke-width="1.3"/>
<circle cx="584.2" cy="463.9" r="3.5" fill="#fff" stroke="#000" stroke-width="1.3"/>
<circle cx="560.9" cy="464.3" r="3.5" fill="#fff" stroke="#000" stroke-width="1.3"/>
<circle cx="582.7" cy="464.3" r="3.5" fill="#fff" stroke="#000" stroke-width="1.3"/>
<circle cx="562.3" cy="463.1" r="3.5" fill="#fff" stroke="#000" stroke-width="1.3"/>
<circle cx="562.3" cy="464.7" r="3.5" fill="#fff" stroke="#000" stroke-width="1.3"/>
<circle cx="581.3" cy="463.1" r="3.5" fill="#fff" stroke="#000" stroke-width="1.3"/>
<circle cx="581.3" cy="464.7" r="3.5" fill="#fff" stroke="#000" stroke-width="1.3"/>
<circle cx="563.8" cy="463.5" r="3.5" fill="#fff" stroke="#000" stroke-width="1.3"/>
<circle cx="579.8" cy="463.5" r="3.5" fill="#fff" stroke="#000" stroke-width="1.3"/>
<circle cx="565.2" cy="463.9" r="3.5" fill="#fff" stroke="#000" stroke-width="1.3"/>
<circle cx="578.4" cy="463.9" r="3.5" fill="#fff" stroke="#000" stroke-width="1.3"/>
<circle cx="566.7" cy="464.3" r="3.5" fill="#fff" stroke="#000" stroke-width="1.3"/>
<circle cx="576.9" cy="464.3" r="3.5" fill="#fff" stroke="#000" stroke-width="1.3"/>
<circle cx="568.2" cy="464.8" r="3.5" fill="#fff" stroke="#000" stroke-width="1.3"/>
<circle cx="575.4" cy="464.8" r="3.5" fill="#fff" stroke="#000" stroke-width="1.3"/>
<circle cx="563.8" cy="465.1" r="3.5" fill="#fff" stroke="#000" stroke-width="1.3"/>
<circle cx="579.8" cy="465.1" r="3.5" fill="#fff" stroke="#000" stroke-width="1.3"/>
<circle cx="565.2" cy="465.5" r="3.5" fill="#fff" stroke="#000" stroke-width="1.3"/>
<circle cx="578.4" cy="465.5" r="3.5" fill="#fff" stroke="#000" stroke-width="1.3"/>
<circle cx="566.7" cy="465.9" r="3.5" fill="#fff" stroke="#000" stroke-width="1.3"/>
<circle cx="576.9" cy="465.9" r="3.5" fill="#fff" stroke="#000" stroke-width="1.3"/>
<circle cx="568.2" cy="466.4" r="3.5" fill="#fff" stroke="#000" stroke-width="1.3"/>
<circle cx="575.4" cy="466.4" r="3.5" fill="#fff" stroke="#000" stroke-width="1.3"/>
<circle cx="569.6" cy="465.3" r="3.5" fill="#fff" stroke="#000" stroke-width="1.3"/>
<circle cx="569.6" cy="466.9" r="3.5" fill="#fff" stroke="#000" stroke-width="1.3"/>
<circle cx="574.0" cy="465.3" r="3.5" fill="#fff" stroke="#000" stroke-width="1.3"/>
<circle cx="574.0" cy="466.9" r="3.5" fill="#fff" stroke="#000" stroke-width="1.3"/>
<circle cx="571.1" cy="465.8" r="3.5" fill="#fff" stroke="#000" stroke-width="1.3"/>
<circle cx="572.5" cy="465.8" r="3.5" fill="#fff" stroke="#000" stroke-width="1.3"/>
<circle cx="571.1" cy="467.4" r="3.5" fill="#fff" stroke="#000" stroke-width="1.3"/>
<circle cx="572.5" cy="467.4" r="3.5" fill="#fff" stroke="#000" stroke-width="1.3"/>
<circle cx="537.3" cy="468.2" r="3.5" fill="#fff" stroke="#000" stroke-width="1.3"/>
<circle cx="606.3" cy="468.2" r="3.5" fill="#fff" stroke="#000" stroke-width="1.3"/>
<circle cx="538.8" cy="468.5" r="3.5" fill="#fff" stroke="#000" stroke-width="1.3"/>
<circle cx="604.8" cy="468.5" r="3.5" fill="#fff" stroke="#000" stroke-width="1.3"/>
<circle cx="540.2" cy="468.8" r="3.5" fill="#fff" stroke="#000" stroke-width="1.3"/>
<circle cx="603.4" cy="468.8" r="3.5" fill="#fff" stroke="#000" stroke-width="1.3"/>
<circle cx="537.3" cy="469.8" r="3.5" fill="#fff" stroke="#000" stroke-width="1.3"/>
<circle cx="606.3" cy="469.8" r="3.5" fill="#fff" stroke="#000" stroke-width="1.3"/>
<circle cx="538.8" cy="470.1" r="3.5" fill="#fff" stroke="#000" stroke-width="1.3"/>
<circle cx="604.8" cy="470.1" r="3.5" fill="#fff" stroke="#000" stroke-width="1.3"/>
<circle cx="540.2" cy="470.4" r="3.5" fill="#fff" stroke="#000" stroke-width="1.3"/>
<circle cx="603.4" cy="470.4" r="3.5" fill="#fff" stroke="#000" stroke-width="1.3"/>
<circle cx="541.7" cy="469.1" r="3.5" fill="#fff" stroke="#000" stroke-width="1.3"/>
<circle cx="541.7" cy="470.7" r="3.5" fill="#fff" stroke="#000" stroke-width="1.3"/>
<circle cx="601.9" cy="469.1" r="3.5" fill="#fff" stroke="#000" stroke-width="1.3"/>
<circle cx="601.9" cy="470.7" r="3.5" fill="#fff" stroke="#000" stroke-width="1.3"/>
<circle cx="543.2" cy="469.4" r="3.5" fill="#fff" stroke="#000" stroke-width="1.3"/>
<circle cx="600.4" cy="469.4" r="3.5" fill="#fff" stroke="#000" stroke-width="1.3"/>
<circle cx="544.6" cy="469.7" r="3.5" fill="#fff" stroke="#000" stroke-width="1.3"/>
<circle cx="599.0" cy="469.7" r="3.5" fill="#fff" stroke="#000" stroke-width="1.3"/>
<circle cx="546.1" cy="470.1" r="3.5" fill="#fff" stroke="#000" stroke-width="1.3"/>
<circle cx="597.5" cy="470.1" r="3.5" fill="#fff" stroke="#000" stroke-width="1.3"/>
<circle cx="547.6" cy="470.4" r="3.5" fill="#fff" stroke="#000" stroke-width="1.3"/>
<circle cx="596.0" cy="470.4" r="3.5" fill="#fff" stroke="#000" stroke-width="1.3"/>
<circle cx="549.0" cy="470.7" r="3.5" fill="#fff" stroke="#000" stroke-width="1.3"/>
<circle cx="594.6" cy="470.7" r="3.5" fill="#fff" stroke="#000" stroke-width="1.3"/>
<circle cx="543.2" cy="471.0" r="3.5" fill="#fff" stroke="#000" stroke-width="1.3"/>
<circle cx="600.4" cy="471.0" r="3.5" fill="#fff" stroke="#000" stroke-width="1.3"/>
<circle cx="544.6" cy="471.3" r="3.5" fill="#fff" stroke="#000" stroke-width="1.3"/>
<circle cx="599.0" cy="471.3" r="3.5" fill="#fff" stroke="#000" stroke-width="1.3"/>
<circle cx="546.1" cy="471.7" r="3.5" fill="#fff" stroke="#000" stroke-width="1.3"/>
<circle cx="597.5" cy="471.7" r="3.5" fill="#fff" stroke="#000" stroke-width="1.3"/>
<circle cx="547.6" cy="472.0" r="3.5" fill="#fff" stroke="#000" stroke-width="1.3"/>
<circle cx="596.0" cy="472.0" r="3.5" fill="#fff" stroke="#000" stroke-width="1.3"/>
<circle cx="549.0" cy="472.3" r="3.5" fill="#fff" stroke="#000" stroke-width="1.3"/>
<circle cx="594.6" cy="472.3" r="3.5" fill="#fff" stroke="#000" stroke-width="1.3"/>
<circle cx="550.5" cy="471.0" r="3.5" fill="#fff" stroke="#000" stroke-width="1.3"/>
<circle cx="550.5" cy="472.6" r="3.5" fill="#fff" stroke="#000" stroke-width="1.3"/>
<circle cx="593.1" cy="471.0" r="3.5" fill="#fff" stroke="#000" stroke-width="1.3"/>
<circle cx="593.1" cy="472.6" r="3.5" fill="#fff" stroke="#000" stroke-width="1.3"/>
<circle cx="552.0" cy="471.4" r="3.5" fill="#fff" stroke="#000" stroke-width="1.3"/>
<circle cx="552.0" cy="473.0" r="3.5" fill="#fff" stroke="#000" stroke-width="1.3"/>
<circle cx="591.6" cy="471.4" r="3.5" fill="#fff" stroke="#000" stroke-width="1.3"/>
<circle cx="591.6" cy="473.0" r="3.5" fill="#fff" stroke="#000" stroke-width="1.3"/>
<circle cx="553.4" cy="471.7" r="3.5" fill="#fff" stroke="#000" stroke-width="1.3"/>
<circle cx="590.2" cy="471.7" r="3.5" fill="#fff" stroke="#000" stroke-width="1.3"/>
<circle cx="554.9" cy="472.0" r="3.5" fill="#fff" stroke="#000" stroke-width="1.3"/>
<circle cx="588.7" cy="472.0" r="3.5" fill="#fff" stroke="#000" stroke-width="1.3"/>
<circle cx="556.4" cy="472.4" r="3.5" fill="#fff" stroke="#000" stroke-width="1.3"/>
<circle cx="587.2" cy="472.4" r="3.5" fill="#fff" stroke="#000" stroke-width="1.3"/>
<circle cx="557.9" cy="472.7" r="3.5" fill="#fff" stroke="#000" stroke-width="1.3"/>
<circle cx="585.7" cy="472.7" r="3.5" fill="#fff" stroke="#000" stroke-width="1.3"/>
<circle cx="553.4" cy="473.3" r="3.5" fill="#fff" stroke="#000" stroke-width="1.3"/>
<circle cx="590.2" cy="473.3" r="3.5" fill="#fff" stroke="#000" stroke-width="1.3"/>
<circle cx="554.9" cy="473.6" r="3.5" fill="#fff" stroke="#000" stroke-width="1.3"/>
<circle cx="588.7" cy="473.6" r="3.5" fill="#fff" stroke="#000" stroke-width="1.3"/>
<circle cx="556.4" cy="474.0" r="3.5" fill="#fff" stroke="#000" stroke-width="1.3"/>
<circle cx="587.2" cy="474.0" r="3.5" fill="#fff" stroke="#000" stroke-width="1.3"/>
<circle cx="557.9" cy="474.3" r="3.5" fill="#fff" stroke="#000" stroke-width="1.3"/>
<circle cx="585.7" cy="474.3" r="3.5" fill="#fff" stroke="#000" stroke-width="1.3"/>
<circle cx="559.3" cy="473.1" r="3.5" fill="#fff" stroke="#000" stroke-width="1.3"/>
<circle cx="559.3" cy="474.7" r="3.5" fill="#fff" stroke="#000" stroke-width="1.3"/>
<circle cx="584.3" cy="473.1" r="3.5" fill="#fff" stroke="#000" stroke-width="1.3"/>
<circle cx="584.3" cy="474.7" r="3.5" fill="#fff" stroke="#000" stroke-width="1.3"/>
<circle cx="560.8" cy="473.4" r="3.5" fill="#fff" stroke="#000" stroke-width="1.3"/>
<circle cx="582.8" cy="473.4" r="3.5" fill="#fff" stroke="#000" stroke-width="1.3"/>
<circle cx="562.3" cy="473.8" r="3.5" fill="#fff" stroke="#000" stroke-width="1.3"/>
<circle cx="581.3" cy="473.8" r="3.5" fill="#fff" stroke="#000" stroke-width="1.3"/>
<circle cx="563.7" cy="474.2" r="3.5" fill="#fff" stroke="#000" stroke-width="1.3"/>
<circle cx="579.9" cy="474.2" r="3.5" fill="#fff" stroke="#000" stroke-width="1.3"/>
<circle cx="565.2" cy="474.5" r="3.5" fill="#fff" stroke="#000" stroke-width="1.3"/>
<circle cx="578.4" cy="474.5" r="3.5" fill="#fff" stroke="#000" stroke-width="1.3"/>
<circle cx="566.7" cy="474.9" r="3.5" fill="#fff" stroke="#000" stroke-width="1.3"/>
<circle cx="576.9" cy="474.9" r="3.5" fill="#fff" stroke="#000" stroke-width="1.3"/>
<circle cx="560.8" cy="475.0" r="3.5" fill="#fff" stroke="#000" stroke-width="1.3"/>
<circle cx="582.8" cy="475.0" r="3.5" fill="#fff" stroke="#000" stroke-width="1.3"/>
<circle cx="562.3" cy="475.4" r="3.5" fill="#fff" stroke="#000" stroke-width="1.3"/>
<circle cx="581.3" cy="475.4" r="3.5" fill="#fff" stroke="#000" stroke-width="1.3"/>
<circle cx="563.7" cy="475.8" r="3.5" fill="#fff" stroke="#000" stroke-width="1.3"/>
<circle cx="579.9" cy="475.8" r="3.5" fill="#fff" stroke="#000" stroke-width="1.3"/>
<circle cx="565.2" cy="476.1" r="3.5" fill="#fff" stroke="#000" stroke-width="1.3"/>
<circle cx="578.4" cy="476.1" r="3.5" fill="#fff" stroke="#000" stroke-width="1.3"/>
<circle cx="566.7" cy="476.5" r="3.5" fill="#fff" stroke="#000" stroke-width="1.3"/>
<circle cx="576.9" cy="476.5" r="3.5" fill="#fff" stroke="#000" stroke-width="1.3"/>
<circle cx="568.1" cy="475.3" r="3.5" fill="#fff" stroke="#000" stroke-width="1.3"/>
<circle cx="568.1" cy="476.9" r="3.5" fill="#fff" stroke="#000" stroke-width="1.3"/>
<circle cx="575.5" cy="475.3" r="3.5" fill="#fff" stroke="#000" stroke-width="1.3"/>
<circle cx="575.5" cy="476.9" r="3.5" fill="#fff" stroke="#000" stroke-width="1.3"/>
<circle cx="569.6" cy="475.8" r="3.5" fill="#fff" stroke="#000" stroke-width="1.3"/>
<circle cx="574.0" cy="475.8" r="3.5" fill="#fff" stroke="#000" stroke-width="1.3"/>
<circle cx="571.1" cy="476.3" r="3.5" fill="#fff" stroke="#000" stroke-width="1.3"/>
<circle cx="572.5" cy="476.3" r="3.5" fill="#fff" stroke="#000" stroke-width="1.3"/>
<circle cx="569.6" cy="477.4" r="3.5" fill="#fff" stroke="#000" stroke-width="1.3"/>
<circle cx="574.0" cy="477.4" r="3.5" fill="#fff" stroke="#000" stroke-width="1.3"/>
<circle cx="571.1" cy="477.9" r="3.5" fill="#fff" stroke="#000" stroke-width="1.3"/>
<circle cx="572.5" cy="477.9" r="3.5" fill="#fff" stroke="#000" stroke-width="1.3"/>
<circle cx="537.6" cy="480.5" r="3.5" fill="#fff" stroke="#000" stroke-width="1.3"/>
<circle cx="606.0" cy="480.5" r="3.5" fill="#fff" stroke="#000" stroke-width="1.3"/>
<circle cx="603.0" cy="481.3" r="3.5" fill="#fff" stroke="#000" stroke-width="1.3"/>
<circle cx="540.6" cy="481.3" r="3.5" fill="#fff" stroke="#000" stroke-width="1.3"/>
<circle cx="543.5" cy="482.2" r="3.5" fill="#fff" stroke="#000" stroke-width="1.3"/>
<circle cx="600.1" cy="482.2" r="3.5" fill="#fff" stroke="#000" stroke-width="1.3"/>
<circle cx="546.5" cy="483.0" r="3.5" fill="#fff" stroke="#000" stroke-width="1.3"/>
<circle cx="597.1" cy="483.0" r="3.5" fill="#fff" stroke="#000" stroke-width="1.3"/>
<circle cx="549.5" cy="483.9" r="3.5" fill="#fff" stroke="#000" stroke-width="1.3"/>
<circle cx="594.1" cy="483.9" r="3.5" fill="#fff" stroke="#000" stroke-width="1.3"/>
<circle cx="552.5" cy="484.8" r="3.5" fill="#fff" stroke="#000" stroke-width="1.3"/>
<circle cx="591.1" cy="484.8" r="3.5" fill="#fff" stroke="#000" stroke-width="1.3"/>
<circle cx="555.4" cy="485.7" r="3.5" fill="#fff" stroke="#000" stroke-width="1.3"/>
<circle cx="588.2" cy="485.7" r="3.5" fill="#fff" stroke="#000" stroke-width="1.3"/>
<circle cx="558.4" cy="486.7" r="3.5" fill="#fff" stroke="#000" stroke-width="1.3"/>
<circle cx="585.2" cy="486.7" r="3.5" fill="#fff" stroke="#000" stroke-width="1.3"/>
<circle cx="561.4" cy="487.6" r="3.5" fill="#fff" stroke="#000" stroke-width="1.3"/>
<circle cx="582.2" cy="487.6" r="3.5" fill="#fff" stroke="#000" stroke-width="1.3"/>
<circle cx="564.4" cy="488.6" r="3.5" fill="#fff" stroke="#000" stroke-width="1.3"/>
<circle cx="579.2" cy="488.6" r="3.5" fill="#fff" stroke="#000" stroke-width="1.3"/>
<circle cx="567.3" cy="489.7" r="3.5" fill="#fff" stroke="#000" stroke-width="1.3"/>
<circle cx="576.3" cy="489.7" r="3.5" fill="#fff" stroke="#000" stroke-width="1.3"/>
<circle cx="570.3" cy="490.9" r="3.5" fill="#fff" stroke="#000" stroke-width="1.3"/>
<circle cx="573.3" cy="490.9" r="3.5" fill="#fff" stroke="#000" stroke-width="1.3"/>
<circle cx="536.8" cy="490.9" r="3.5" fill="#fff" stroke="#000" stroke-width="1.3"/>
<circle cx="606.8" cy="490.9" r="3.5" fill="#fff" stroke="#000" stroke-width="1.3"/>
<circle cx="536.8" cy="492.5" r="3.5" fill="#fff" stroke="#000" stroke-width="1.3"/>
<circle cx="606.8" cy="492.5" r="3.5" fill="#fff" stroke="#000" stroke-width="1.3"/>
<circle cx="538.4" cy="491.3" r="3.5" fill="#fff" stroke="#000" stroke-width="1.3"/>
<circle cx="538.4" cy="492.9" r="3.5" fill="#fff" stroke="#000" stroke-width="1.3"/>
<circle cx="605.2" cy="491.3" r="3.5" fill="#fff" stroke="#000" stroke-width="1.3"/>
<circle cx="605.2" cy="492.9" r="3.5" fill="#fff" stroke="#000" stroke-width="1.3"/>
<circle cx="539.9" cy="491.7" r="3.5" fill="#fff" stroke="#000" stroke-width="1.3"/>
<circle cx="603.7" cy="491.7" r="3.5" fill="#fff" stroke="#000" stroke-width="1.3"/>
<circle cx="541.5" cy="492.1" r="3.5" fill="#fff" stroke="#000" stroke-width="1.3"/>
<circle cx="602.1" cy="492.1" r="3.5" fill="#fff" stroke="#000" stroke-width="1.3"/>
<circle cx="543.0" cy="492.4" r="3.5" fill="#fff" stroke="#000" stroke-width="1.3"/>
<circle cx="600.6" cy="492.4" r="3.5" fill="#fff" stroke="#000" stroke-width="1.3"/>
<circle cx="544.6" cy="492.8" r="3.5" fill="#fff" stroke="#000" stroke-width="1.3"/>
<circle cx="599.0" cy="492.8" r="3.5" fill="#fff" stroke="#000" stroke-width="1.3"/>
<circle cx="539.9" cy="493.3" r="3.5" fill="#fff" stroke="#000" stroke-width="1.3"/>
<circle cx="603.7" cy="493.3" r="3.5" fill="#fff" stroke="#000" stroke-width="1.3"/>
<circle cx="541.5" cy="493.7" r="3.5" fill="#fff" stroke="#000" stroke-width="1.3"/>
<circle cx="602.1" cy="493.7" r="3.5" fill="#fff" stroke="#000" stroke-width="1.3"/>
<circle cx="543.0" cy="494.0" r="3.5" fill="#fff" stroke="#000" stroke-width="1.3"/>
<circle cx="600.6" cy="494.0" r="3.5" fill="#fff" stroke="#000" stroke-width="1.3"/>
<circle cx="544.6" cy="494.4" r="3.5" fill="#fff" stroke="#000" stroke-width="1.3"/>
<circle cx="599.0" cy="494.4" r="3.5" fill="#fff" stroke="#000" stroke-width="1.3"/>
<circle cx="546.1" cy="493.2" r="3.5" fill="#fff" stroke="#000" stroke-width="1.3"/>
<circle cx="546.1" cy="494.8" r="3.5" fill="#fff" stroke="#000" stroke-width="1.3"/>
<circle cx="597.5" cy="493.2" r="3.5" fill="#fff" stroke="#000" stroke-width="1.3"/>
<circle cx="597.5" cy="494.8" r="3.5" fill="#fff" stroke="#000" stroke-width="1.3"/>
<circle cx="547.7" cy="493.6" r="3.5" fill="#fff" stroke="#000" stroke-width="1.3"/>
<circle cx="595.9" cy="493.6" r="3.5" fill="#fff" stroke="#000" stroke-width="1.3"/>
<circle cx="549.2" cy="494.0" r="3.5" fill="#fff" stroke="#000" stroke-width="1.3"/>
<circle cx="594.4" cy="494.0" r="3.5" fill="#fff" stroke="#000" stroke-width="1.3"/>
<circle cx="550.8" cy="494.5" r="3.5" fill="#fff" stroke="#000" stroke-width="1.3"/>
<circle cx="592.8" cy="494.5" r="3.5" fill="#fff" stroke="#000" stroke-width="1.3"/>
<circle cx="552.4" cy="494.9" r="3.5" fill="#fff" stroke="#000" stroke-width="1.3"/>
<circle cx="591.2" cy="494.9" r="3.5" fill="#fff" stroke="#000" stroke-width="1.3"/>
<circle cx="547.7" cy="495.2" r="3.5" fill="#fff" stroke="#000" stroke-width="1.3"/>
<circle cx="595.9" cy="495.2" r="3.5" fill="#fff" stroke="#000" stroke-width="1.3"/>
<circle cx="549.2" cy="495.6" r="3.5" fill="#fff" stroke="#000" stroke-width="1.3"/>
<circle cx="594.4" cy="495.6" r="3.5" fill="#fff" stroke="#000" stroke-width="1.3"/>
<circle cx="550.8" cy="496.1" r="3.5" fill="#fff" stroke="#000" stroke-width="1.3"/>
<circle cx="592.8" cy="496.1" r="3.5" fill="#fff" stroke="#000" stroke-width="1.3"/>
<circle cx="552.4" cy="496.5" r="3.5" fill="#fff" stroke="#000" stroke-width="1.3"/>
<circle cx="591.2" cy="496.5" r="3.5" fill="#fff" stroke="#000" stroke-width="1.3"/>
<circle cx="553.9" cy="495.3" r="3.5" fill="#fff" stroke="#000" stroke-width="1.3"/>
<circle cx="553.9" cy="496.9" r="3.5" fill="#fff" stroke="#000" stroke-width="1.3"/>
<circle cx="589.7" cy="495.3" r="3.5" fill="#fff" stroke="#000" stroke-width="1.3"/>
<circle cx="589.7" cy="496.9" r="3.5" fill="#fff" stroke="#000" stroke-width="1.3"/>
<circle cx="555.5" cy="495.7" r="3.5" fill="#fff" stroke="#000" stroke-width="1.3"/>
<circle cx="588.1" cy="495.7" r="3.5" fill="#fff" stroke="#000" stroke-width="1.3"/>
<circle cx="557.0" cy="496.1" r="3.5" fill="#fff" stroke="#000" stroke-width="1.3"/>
<circle cx="586.6" cy="496.1" r="3.5" fill="#fff" stroke="#000" stroke-width="1.3"/>
<circle cx="558.6" cy="496.6" r="3.5" fill="#fff" stroke="#000" stroke-width="1.3"/>
<circle cx="585.0" cy="496.6" r="3.5" fill="#fff" stroke="#000" stroke-width="1.3"/>
<circle cx="555.5" cy="497.3" r="3.5" fill="#fff" stroke="#000" stroke-width="1.3"/>
<circle cx="588.1" cy="497.3" r="3.5" fill="#fff" stroke="#000" stroke-width="1.3"/>
<circle cx="557.0" cy="497.7" r="3.5" fill="#fff" stroke="#000" stroke-width="1.3"/>
<circle cx="586.6" cy="497.7" r="3.5" fill="#fff" stroke="#000" stroke-width="1.3"/>
<circle cx="558.6" cy="498.2" r="3.5" fill="#fff" stroke="#000" stroke-width="1.3"/>
<circle cx="585.0" cy="498.2" r="3.5" fill="#fff" stroke="#000" stroke-width="1.3"/>
<circle cx="560.1" cy="497.0" r="3.5" fill="#fff" stroke="#000" stroke-width="1.3"/>
<circle cx="560.1" cy="498.6" r="3.5" fill="#fff" stroke="#000" stroke-width="1.3"/>
<circle cx="583.5" cy="497.0" r="3.5" fill="#fff" stroke="#000" stroke-width="1.3"/>
<circle cx="583.5" cy="498.6" r="3.5" fill="#fff" stroke="#000" stroke-width="1.3"/>
<circle cx="561.7" cy="497.5" r="3.5" fill="#fff" stroke="#000" stroke-width="1.3"/>
<circle cx="581.9" cy="497.5" r="3.5" fill="#fff" stroke="#000" stroke-width="1.3"/>
<circle cx="563.2" cy="498.0" r="3.5" fill="#fff" stroke="#000" stroke-width="1.3"/>
<circle cx="580.4" cy="498.0" r="3.5" fill="#fff" stroke="#000" stroke-width="1.3"/>
<circle cx="564.8" cy="498.4" r="3.5" fill="#fff" stroke="#000" stroke-width="1.3"/>
<circle cx="578.8" cy="498.4" r="3.5" fill="#fff" stroke="#000" stroke-width="1.3"/>
<circle cx="566.4" cy="498.9" r="3.5" fill="#fff" stroke="#000" stroke-width="1.3"/>
<circle cx="577.2" cy="498.9" r="3.5" fill="#fff" stroke="#000" stroke-width="1.3"/>
<circle cx="561.7" cy="499.1" r="3.5" fill="#fff" stroke="#000" stroke-width="1.3"/>
<circle cx="581.9" cy="499.1" r="3.5" fill="#fff" stroke="#000" stroke-width="1.3"/>
<circle cx="563.2" cy="499.6" r="3.5" fill="#fff" stroke="#000" stroke-width="1.3"/>
<circle cx="580.4" cy="499.6" r="3.5" fill="#fff" stroke="#000" stroke-width="1.3"/>
<circle cx="564.8" cy="500.0" r="3.5" fill="#fff" stroke="#000" stroke-width="1.3"/>
<circle cx="578.8" cy="500.0" r="3.5" fill="#fff" stroke="#000" stroke-width="1.3"/>
<circle cx="566.4" cy="500.5" r="3.5" fill="#fff" stroke="#000" stroke-width="1.3"/>
<circle cx="577.2" cy="500.5" r="3.5" fill="#fff" stroke="#000" stroke-width="1.3"/>
<circle cx="567.9" cy="499.4" r="3.5" fill="#fff" stroke="#000" stroke-width="1.3"/>
<circle cx="575.7" cy="499.4" r="3.5" fill="#fff" stroke="#000" stroke-width="1.3"/>
<circle cx="569.5" cy="500.0" r="3.5" fill="#fff" stroke="#000" stroke-width="1.3"/>
<circle cx="574.1" cy="500.0" r="3.5" fill="#fff" stroke="#000" stroke-width="1.3"/>
<circle cx="571.0" cy="500.6" r="3.5" fill="#fff" stroke="#000" stroke-width="1.3"/>
<circle cx="572.6" cy="500.6" r="3.5" fill="#fff" stroke="#000" stroke-width="1.3"/>
<circle cx="567.9" cy="501.0" r="3.5" fill="#fff" stroke="#000" stroke-width="1.3"/>
<circle cx="575.7" cy="501.0" r="3.5" fill="#fff" stroke="#000" stroke-width="1.3"/>
<circle cx="569.5" cy="501.6" r="3.5" fill="#fff" stroke="#000" stroke-width="1.3"/>
<circle cx="574.1" cy="501.6" r="3.5" fill="#fff" stroke="#000" stroke-width="1.3"/>
<circle cx="571.0" cy="502.2" r="3.5" fill="#fff" stroke="#000" stroke-width="1.3"/>
<circle cx="572.6" cy="502.2" r="3.5" fill="#fff" stroke="#000" stroke-width="1.3"/>
<circle cx="537.5" cy="505.9" r="3.5" fill="#fff" stroke="#000" stroke-width="1.3"/>
<circle cx="606.1" cy="505.9" r="3.5" fill="#fff" stroke="#000" stroke-width="1.3"/>
<circle cx="540.8" cy="506.7" r="3.5" fill="#fff" stroke="#000" stroke-width="1.3"/>
<circle cx="602.8" cy="506.7" r="3.5" fill="#fff" stroke="#000" stroke-width="1.3"/>
<circle cx="544.0" cy="507.5" r="3.5" fill="#fff" stroke="#000" stroke-width="1.3"/>
<circle cx="599.6" cy="507.5" r="3.5" fill="#fff" stroke="#000" stroke-width="1.3"/>
<circle cx="547.3" cy="508.3" r="3.5" fill="#fff" stroke="#000" stroke-width="1.3"/>
<circle cx="596.3" cy="508.3" r="3.5" fill="#fff" stroke="#000" stroke-width="1.3"/>
<circle cx="550.6" cy="509.1" r="3.5" fill="#fff" stroke="#000" stroke-width="1.3"/>
<circle cx="593.0" cy="509.1" r="3.5" fill="#fff" stroke="#000" stroke-width="1.3"/>
<circle cx="553.8" cy="509.9" r="3.5" fill="#fff" stroke="#000" stroke-width="1.3"/>
<circle cx="589.8" cy="509.9" r="3.5" fill="#fff" stroke="#000" stroke-width="1.3"/>
<circle cx="557.1" cy="510.8" r="3.5" fill="#fff" stroke="#000" stroke-width="1.3"/>
<circle cx="586.5" cy="510.8" r="3.5" fill="#fff" stroke="#000" stroke-width="1.3"/>
<circle cx="560.4" cy="511.7" r="3.5" fill="#fff" stroke="#000" stroke-width="1.3"/>
<circle cx="583.2" cy="511.7" r="3.5" fill="#fff" stroke="#000" stroke-width="1.3"/>
<circle cx="563.6" cy="512.6" r="3.5" fill="#fff" stroke="#000" stroke-width="1.3"/>
<circle cx="580.0" cy="512.6" r="3.5" fill="#fff" stroke="#000" stroke-width="1.3"/>
<circle cx="566.9" cy="513.6" r="3.5" fill="#fff" stroke="#000" stroke-width="1.3"/>
<circle cx="576.7" cy="513.6" r="3.5" fill="#fff" stroke="#000" stroke-width="1.3"/>
<circle cx="570.2" cy="514.7" r="3.5" fill="#fff" stroke="#000" stroke-width="1.3"/>
<circle cx="573.4" cy="514.7" r="3.5" fill="#fff" stroke="#000" stroke-width="1.3"/>
<circle cx="537.6" cy="518.5" r="3.5" fill="#fff" stroke="#000" stroke-width="1.3"/>
<circle cx="547.5" cy="518.8" r="3.5" fill="#fff" stroke="#000" stroke-width="1.3"/>
<circle cx="557.0" cy="521.5" r="3.5" fill="#fff" stroke="#000" stroke-width="1.3"/>
<circle cx="566.7" cy="526.9" r="3.5" fill="#fff" stroke="#000" stroke-width="1.3"/>
<circle cx="576.9" cy="522.8" r="3.5" fill="#fff" stroke="#000" stroke-width="1.3"/>
<circle cx="586.4" cy="519.1" r="3.5" fill="#fff" stroke="#000" stroke-width="1.3"/>
<circle cx="606.3" cy="517.7" r="3.5" fill="#fff" stroke="#000" stroke-width="1.3"/>
<circle cx="705.7" cy="309.2" r="3.5" fill="#fff" stroke="#000" stroke-width="1.3"/>
<circle cx="700.0" cy="339.1" r="3.5" fill="#fff" stroke="#000" stroke-width="1.3"/>
<circle cx="711.6" cy="332.3" r="3.5" fill="#fff" stroke="#000" stroke-width="1.3"/>
<circle cx="705.7" cy="363.2" r="3.5" fill="#fff" stroke="#000" stroke-width="1.3"/>
<circle cx="694.3" cy="377.3" r="3.5" fill="#fff" stroke="#000" stroke-width="1.3"/>
<circle cx="705.7" cy="381.0" r="3.5" fill="#fff" stroke="#000" stroke-width="1.3"/>
<circle cx="700.0" cy="385.1" r="3.5" fill="#fff" stroke="#000" stroke-width="1.3"/>
<circle cx="717.0" cy="380.3" r="3.5" fill="#fff" stroke="#000" stroke-width="1.3"/>
<circle cx="717.0" cy="394.6" r="3.5" fill="#fff" stroke="#000" stroke-width="1.3"/>
<circle cx="722.7" cy="399.3" r="3.5" fill="#fff" stroke="#000" stroke-width="1.3"/>
<circle cx="688.5" cy="405.4" r="3.5" fill="#fff" stroke="#000" stroke-width="1.3"/>
<circle cx="700.0" cy="408.1" r="3.5" fill="#fff" stroke="#000" stroke-width="1.3"/>
<circle cx="711.6" cy="405.7" r="3.5" fill="#fff" stroke="#000" stroke-width="1.3"/>
<circle cx="682.8" cy="412.8" r="3.5" fill="#fff" stroke="#000" stroke-width="1.3"/>
<circle cx="694.3" cy="416.2" r="3.5" fill="#fff" stroke="#000" stroke-width="1.3"/>
<circle cx="705.7" cy="421.4" r="3.5" fill="#fff" stroke="#000" stroke-width="1.3"/>
<circle cx="717.0" cy="414.2" r="3.5" fill="#fff" stroke="#000" stroke-width="1.3"/>
<circle cx="728.5" cy="412.2" r="3.5" fill="#fff" stroke="#000" stroke-width="1.3"/>
<circle cx="682.8" cy="426.7" r="3.5" fill="#fff" stroke="#000" stroke-width="1.3"/>
<circle cx="694.3" cy="429.1" r="3.5" fill="#fff" stroke="#000" stroke-width="1.3"/>
<circle cx="705.7" cy="435.6" r="3.5" fill="#fff" stroke="#000" stroke-width="1.3"/>
<circle cx="717.0" cy="434.5" r="3.5" fill="#fff" stroke="#000" stroke-width="1.3"/>
<circle cx="728.5" cy="426.7" r="3.5" fill="#fff" stroke="#000" stroke-width="1.3"/>
<circle cx="694.3" cy="452.1" r="3.5" fill="#fff" stroke="#000" stroke-width="1.3"/>
<circle cx="705.7" cy="452.4" r="3.5" fill="#fff" stroke="#000" stroke-width="1.3"/>
<circle cx="717.0" cy="448.7" r="3.5" fill="#fff" stroke="#000" stroke-width="1.3"/>
<circle cx="671.6" cy="457.1" r="3.5" fill="#fff" stroke="#000" stroke-width="1.3"/>
<circle cx="681.1" cy="464.5" r="3.5" fill="#fff" stroke="#000" stroke-width="1.3"/>
<circle cx="689.9" cy="465.2" r="3.5" fill="#fff" stroke="#000" stroke-width="1.3"/>
<circle cx="710.9" cy="465.2" r="3.5" fill="#fff" stroke="#000" stroke-width="1.3"/>
<circle cx="720.4" cy="464.6" r="3.5" fill="#fff" stroke="#000" stroke-width="1.3"/>
<circle cx="730.3" cy="459.1" r="3.5" fill="#fff" stroke="#000" stroke-width="1.3"/>
<circle cx="740.0" cy="457.0" r="3.5" fill="#fff" stroke="#000" stroke-width="1.3"/>
<circle cx="671.6" cy="471.1" r="3.5" fill="#fff" stroke="#000" stroke-width="1.3"/>
<circle cx="678.4" cy="472.3" r="3.5" fill="#fff" stroke="#000" stroke-width="1.3"/>
<circle cx="685.1" cy="474.0" r="3.5" fill="#fff" stroke="#000" stroke-width="1.3"/>
<circle cx="691.9" cy="475.4" r="3.5" fill="#fff" stroke="#000" stroke-width="1.3"/>
<circle cx="699.4" cy="479.5" r="3.5" fill="#fff" stroke="#000" stroke-width="1.3"/>
<circle cx="711.6" cy="478.8" r="3.5" fill="#fff" stroke="#000" stroke-width="1.3"/>
<circle cx="719.7" cy="474.0" r="3.5" fill="#fff" stroke="#000" stroke-width="1.3"/>
<circle cx="726.5" cy="473.1" r="3.5" fill="#fff" stroke="#000" stroke-width="1.3"/>
<circle cx="733.2" cy="471.3" r="3.5" fill="#fff" stroke="#000" stroke-width="1.3"/>
<circle cx="740.0" cy="469.3" r="3.5" fill="#fff" stroke="#000" stroke-width="1.3"/>
<circle cx="699.9" cy="482.4" r="3.5" fill="#fff" stroke="#000" stroke-width="1.3"/>
<circle cx="711.2" cy="481.5" r="3.5" fill="#fff" stroke="#000" stroke-width="1.3"/>
<circle cx="672.4" cy="482.2" r="3.5" fill="#fff" stroke="#000" stroke-width="1.3"/>
<circle cx="738.8" cy="481.5" r="3.5" fill="#fff" stroke="#000" stroke-width="1.3"/>
<circle cx="676.5" cy="483.8" r="3.5" fill="#fff" stroke="#000" stroke-width="1.3"/>
<circle cx="734.7" cy="483.3" r="3.5" fill="#fff" stroke="#000" stroke-width="1.3"/>
<circle cx="730.5" cy="484.9" r="3.5" fill="#fff" stroke="#000" stroke-width="1.3"/>
<circle cx="680.7" cy="485.4" r="3.5" fill="#fff" stroke="#000" stroke-width="1.3"/>
<circle cx="684.9" cy="486.8" r="3.5" fill="#fff" stroke="#000" stroke-width="1.3"/>
<circle cx="726.4" cy="486.4" r="3.5" fill="#fff" stroke="#000" stroke-width="1.3"/>
<circle cx="689.0" cy="488.0" r="3.5" fill="#fff" stroke="#000" stroke-width="1.3"/>
<circle cx="722.2" cy="487.8" r="3.5" fill="#fff" stroke="#000" stroke-width="1.3"/>
<circle cx="718.1" cy="489.0" r="3.5" fill="#fff" stroke="#000" stroke-width="1.3"/>
<circle cx="693.1" cy="489.1" r="3.5" fill="#fff" stroke="#000" stroke-width="1.3"/>
<circle cx="697.3" cy="490.1" r="3.5" fill="#fff" stroke="#000" stroke-width="1.3"/>
<circle cx="713.9" cy="490.0" r="3.5" fill="#fff" stroke="#000" stroke-width="1.3"/>
<circle cx="701.5" cy="490.8" r="3.5" fill="#fff" stroke="#000" stroke-width="1.3"/>
<circle cx="709.8" cy="490.8" r="3.5" fill="#fff" stroke="#000" stroke-width="1.3"/>
<circle cx="705.6" cy="491.2" r="3.5" fill="#fff" stroke="#000" stroke-width="1.3"/>
<circle cx="672.5" cy="497.8" r="3.5" fill="#fff" stroke="#000" stroke-width="1.3"/>
<circle cx="680.4" cy="500.2" r="3.5" fill="#fff" stroke="#000" stroke-width="1.3"/>
<circle cx="689.2" cy="502.9" r="3.5" fill="#fff" stroke="#000" stroke-width="1.3"/>
<circle cx="697.3" cy="503.8" r="3.5" fill="#fff" stroke="#000" stroke-width="1.3"/>
<circle cx="705.7" cy="504.3" r="3.5" fill="#fff" stroke="#000" stroke-width="1.3"/>
<circle cx="714.3" cy="503.2" r="3.5" fill="#fff" stroke="#000" stroke-width="1.3"/>
<circle cx="722.4" cy="502.5" r="3.5" fill="#fff" stroke="#000" stroke-width="1.3"/>
<circle cx="730.5" cy="500.5" r="3.5" fill="#fff" stroke="#000" stroke-width="1.3"/>
<circle cx="738.9" cy="494.8" r="3.5" fill="#fff" stroke="#000" stroke-width="1.3"/>
<circle cx="672.0" cy="504.3" r="3.5" fill="#fff" stroke="#000" stroke-width="1.3"/>
<circle cx="678.4" cy="503.8" r="3.5" fill="#fff" stroke="#000" stroke-width="1.3"/>
<circle cx="685.1" cy="507.9" r="3.5" fill="#fff" stroke="#000" stroke-width="1.3"/>
<circle cx="691.9" cy="512.0" r="3.5" fill="#fff" stroke="#000" stroke-width="1.3"/>
<circle cx="699.1" cy="514.7" r="3.5" fill="#fff" stroke="#000" stroke-width="1.3"/>
<circle cx="705.7" cy="515.4" r="3.5" fill="#fff" stroke="#000" stroke-width="1.3"/>
<circle cx="712.2" cy="515.1" r="3.5" fill="#fff" stroke="#000" stroke-width="1.3"/>
<circle cx="719.0" cy="512.9" r="3.5" fill="#fff" stroke="#000" stroke-width="1.3"/>
<circle cx="726.1" cy="511.3" r="3.5" fill="#fff" stroke="#000" stroke-width="1.3"/>
<circle cx="732.8" cy="503.8" r="3.5" fill="#fff" stroke="#000" stroke-width="1.3"/>
<circle cx="740.0" cy="503.8" r="3.5" fill="#fff" stroke="#000" stroke-width="1.3"/>
<line x1="93" y1="466.8" x2="785" y2="466.8" stroke="#111" stroke-width="1.4" stroke-dasharray="3.8 1.74"/>
<rect x="139.0" y="416.5" width="8.3" height="8.3" fill="#FFE11A" stroke="#000" stroke-width="1.7"/>
<rect x="136.2" y="482.1" width="8.3" height="8.3" fill="#FFE11A" stroke="#000" stroke-width="1.7"/>
<rect x="189.3" y="498.8" width="8.3" height="8.3" fill="#FFE11A" stroke="#000" stroke-width="1.7"/>
<rect x="147.4" y="503.7" width="8.3" height="8.3" fill="#FFE11A" stroke="#000" stroke-width="1.7"/>
<rect x="180.2" y="510.5" width="8.3" height="8.3" fill="#FFE11A" stroke="#000" stroke-width="1.7"/>
<rect x="171.9" y="528.8" width="8.3" height="8.3" fill="#FFE11A" stroke="#000" stroke-width="1.7"/>
<circle cx="304.2" cy="383.3" r="4.3" fill="#FFE11A" stroke="#000" stroke-width="1.7"/>
<circle cx="297.3" cy="508.9" r="4.3" fill="#FFE11A" stroke="#000" stroke-width="1.7"/>
<circle cx="315.5" cy="530.1" r="4.3" fill="#FFE11A" stroke="#000" stroke-width="1.7"/>
<circle cx="455.1" cy="369.7" r="4.3" fill="#FFE11A" stroke="#000" stroke-width="1.7"/>
<circle cx="413.1" cy="470.3" r="4.3" fill="#FFE11A" stroke="#000" stroke-width="1.7"/>
<circle cx="430.3" cy="477.1" r="4.3" fill="#FFE11A" stroke="#000" stroke-width="1.7"/>
<circle cx="577.6" cy="207.2" r="4.3" fill="#FFE11A" stroke="#000" stroke-width="1.7"/>
<circle cx="560.6" cy="380.9" r="4.3" fill="#FFE11A" stroke="#000" stroke-width="1.7"/>
<circle cx="589.1" cy="430.5" r="4.3" fill="#FFE11A" stroke="#000" stroke-width="1.7"/>
<circle cx="545.3" cy="439.3" r="4.3" fill="#FFE11A" stroke="#000" stroke-width="1.7"/>
<circle cx="606.0" cy="435.5" r="4.3" fill="#FFE11A" stroke="#000" stroke-width="1.7"/>
<circle cx="579.6" cy="455.1" r="4.3" fill="#FFE11A" stroke="#000" stroke-width="1.7"/>
<circle cx="604.2" cy="457.0" r="4.3" fill="#FFE11A" stroke="#000" stroke-width="1.7"/>
<circle cx="606.3" cy="469.2" r="4.3" fill="#FFE11A" stroke="#000" stroke-width="1.7"/>
<circle cx="589.5" cy="500.9" r="4.3" fill="#FFE11A" stroke="#000" stroke-width="1.7"/>
<circle cx="552.5" cy="508.3" r="4.3" fill="#FFE11A" stroke="#000" stroke-width="1.7"/>
<circle cx="596.5" cy="518.1" r="4.3" fill="#FFE11A" stroke="#000" stroke-width="1.7"/>
<circle cx="697.6" cy="466.9" r="4.3" fill="#FFE11A" stroke="#000" stroke-width="1.7"/>
<line x1="170.4" y1="426.9" x2="170.4" y2="507" stroke="#12A4D9" stroke-width="3.4"/>
<line x1="160.5" y1="426.9" x2="180.3" y2="426.9" stroke="#12A4D9" stroke-width="2.8" stroke-linecap="round"/>
<line x1="160.5" y1="507" x2="180.3" y2="507" stroke="#12A4D9" stroke-width="2.8" stroke-linecap="round"/>
<rect x="121.4" y="462.6" width="98" height="7.7" fill="#12A4D9"/>
<line x1="304.2" y1="447.8" x2="304.2" y2="524.5" stroke="#E02519" stroke-width="3.4"/>
<line x1="294.3" y1="447.8" x2="314.1" y2="447.8" stroke="#E02519" stroke-width="2.8" stroke-linecap="round"/>
<line x1="294.3" y1="524.5" x2="314.1" y2="524.5" stroke="#E02519" stroke-width="2.8" stroke-linecap="round"/>
<rect x="255.2" y="483.1" width="98" height="6.9" fill="#E02519"/>
<line x1="438.0" y1="386" x2="438.0" y2="492.3" stroke="#E02519" stroke-width="3.4"/>
<line x1="428.1" y1="386" x2="447.9" y2="386" stroke="#E02519" stroke-width="2.8" stroke-linecap="round"/>
<line x1="428.1" y1="492.3" x2="447.9" y2="492.3" stroke="#E02519" stroke-width="2.8" stroke-linecap="round"/>
<rect x="389.0" y="435.9" width="98" height="6.9" fill="#E02519"/>
<line x1="571.8" y1="394.4" x2="571.8" y2="502.2" stroke="#E02519" stroke-width="3.4"/>
<line x1="561.9" y1="394.4" x2="581.7" y2="394.4" stroke="#E02519" stroke-width="2.8" stroke-linecap="round"/>
<line x1="561.9" y1="502.2" x2="581.7" y2="502.2" stroke="#E02519" stroke-width="2.8" stroke-linecap="round"/>
<rect x="522.8" y="444.7" width="98" height="6.9" fill="#E02519"/>
<line x1="705.6" y1="413.3" x2="705.6" y2="507.2" stroke="#E02519" stroke-width="3.4"/>
<line x1="695.7" y1="413.3" x2="715.5" y2="413.3" stroke="#E02519" stroke-width="2.8" stroke-linecap="round"/>
<line x1="695.7" y1="507.2" x2="715.5" y2="507.2" stroke="#E02519" stroke-width="2.8" stroke-linecap="round"/>
<rect x="656.6" y="456.7" width="98" height="6.9" fill="#E02519"/>
<line x1="91.9" y1="81.1" x2="91.9" y2="554.95" stroke="#000" stroke-width="2.5"/>
<line x1="90.65" y1="553.7" x2="785" y2="553.7" stroke="#000" stroke-width="2.5"/>
<line x1="87.2" y1="553.7" x2="92" y2="553.7" stroke="#000" stroke-width="2.5"/>
<text transform="translate(85.3,561.8) scale(1.0,1)" font-size="18.81" font-weight="normal" font-style="normal" text-anchor="end" >0</text>
<line x1="87.2" y1="435.9" x2="92" y2="435.9" stroke="#000" stroke-width="2.5"/>
<text transform="translate(84.6,442.5) scale(1.0,1)" font-size="18.81" font-weight="normal" font-style="normal" text-anchor="end" >5000</text>
<line x1="87.2" y1="318.0" x2="92" y2="318.0" stroke="#000" stroke-width="2.5"/>
<text transform="translate(83.4,324.6) scale(1.0,1)" font-size="18.81" font-weight="normal" font-style="normal" text-anchor="end" >10000</text>
<line x1="87.2" y1="200.2" x2="92" y2="200.2" stroke="#000" stroke-width="2.5"/>
<text transform="translate(83.4,206.8) scale(1.0,1)" font-size="18.81" font-weight="normal" font-style="normal" text-anchor="end" >15000</text>
<line x1="87.2" y1="82.3" x2="92" y2="82.3" stroke="#000" stroke-width="2.5"/>
<text transform="translate(83.4,88.9) scale(1.0,1)" font-size="18.81" font-weight="normal" font-style="normal" text-anchor="end" >20000</text>
<line x1="170.5" y1="553.7" x2="170.5" y2="558.8" stroke="#000" stroke-width="2.5"/>
<line x1="304.3" y1="553.7" x2="304.3" y2="558.8" stroke="#000" stroke-width="2.5"/>
<line x1="438.1" y1="553.7" x2="438.1" y2="558.8" stroke="#000" stroke-width="2.5"/>
<line x1="571.9" y1="553.7" x2="571.9" y2="558.8" stroke="#000" stroke-width="2.5"/>
<line x1="705.7" y1="553.7" x2="705.7" y2="558.8" stroke="#000" stroke-width="2.5"/>
<text transform="translate(16.9,424.3) rotate(-90) scale(1.015,1)" font-size="22.5" font-weight="bold">CSF sTREM2 <tspan font-size="16.7" font-weight="normal">(pg/ml)</tspan></text>
<text transform="translate(170.6,581.0) scale(1.0,1)" font-size="24.03" font-weight="bold" font-style="normal" text-anchor="middle" >HC</text>
<text transform="translate(168.0,597.4) scale(1.0,1)" font-size="15.15" font-weight="normal" font-style="normal" text-anchor="middle" >(n = 122)</text>
<text transform="translate(305.8,580.3) scale(1.0,1)" font-size="24.03" font-weight="normal" font-style="normal" text-anchor="middle" >A+/TN-</text>
<text transform="translate(304.7,597.6) scale(1.0,1)" font-size="15.15" font-weight="normal" font-style="normal" text-anchor="middle" >(n = 52)</text>
<text transform="translate(439.8,580.3) scale(1.0,1)" font-size="24.03" font-weight="normal" font-style="normal" text-anchor="middle" >A+/TN+</text>
<text transform="translate(438.1,597.6) scale(1.0,1)" font-size="15.15" font-weight="normal" font-style="normal" text-anchor="middle" >(n = 45)</text>
<text transform="translate(571.9,580.8) scale(1.0,1)" font-size="24.03" font-weight="bold" font-style="normal" text-anchor="middle" >AD</text>
<text transform="translate(571.9,606.7) scale(1.0,1)" font-size="24.03" font-weight="bold" font-style="normal" text-anchor="middle" >CDR = 0.5</text>
<text transform="translate(570.0,623.6) scale(1.0,1)" font-size="15.15" font-weight="normal" font-style="normal" text-anchor="middle" >(n = 282)</text>
<text transform="translate(702.8,580.8) scale(1.0,1)" font-size="24.03" font-weight="bold" font-style="normal" text-anchor="middle" >AD</text>
<text transform="translate(703.9,606.7) scale(0.96,1)" font-size="24.03" font-weight="bold" font-style="normal" text-anchor="middle" >CDR = 1</text>
<text transform="translate(703.8,623.6) scale(1.0,1)" font-size="15.15" font-weight="normal" font-style="normal" text-anchor="middle" >(n = 80)</text>
<line x1="242.5" y1="605.7" x2="499.4" y2="605.7" stroke="#000" stroke-width="1.6"/>
<text transform="translate(373.2,630.6) scale(1.0,1)" font-size="24.03" font-weight="bold" font-style="normal" text-anchor="middle" >Preclinical AD</text>
<line x1="242.5" y1="640.4" x2="774" y2="640.4" stroke="#000" stroke-width="1.6"/>
<text transform="translate(505.2,663.2) scale(1.0,1)" font-size="24.03" font-weight="bold" font-style="normal" text-anchor="middle" >Alzheimer’s <tspan font-style="italic">continuum</tspan></text>
<text transform="translate(371.5,11.5) scale(1.0,1)" font-size="15.67" font-weight="bold" font-style="normal" text-anchor="middle" ><tspan font-style="italic">P =</tspan> 0.034</text>
<text transform="translate(371.5,28.9) scale(1.0,1)" font-size="14.63" font-weight="normal" font-style="normal" text-anchor="middle" >(<tspan font-style="italic">P =</tspan> 0.007)</text>
<line x1="177.1" y1="38.1" x2="563.2" y2="38.1" stroke="#000" stroke-width="1.6"/>
<text transform="translate(505.4,63.0) scale(1.0,1)" font-size="15.67" font-weight="bold" font-style="normal" text-anchor="middle" ><tspan font-style="italic">P =</tspan> 0.001</text>
<text transform="translate(505.4,80.4) scale(1.0,1)" font-size="14.63" font-weight="normal" font-style="normal" text-anchor="middle" >(<tspan font-style="italic">P =</tspan> 0.001)</text>
<line x1="309.6" y1="89.7" x2="701" y2="89.7" stroke="#000" stroke-width="1.6"/>
<text transform="translate(436.5,112.3) scale(1.0,1)" font-size="15.67" font-weight="bold" font-style="normal" text-anchor="middle" ><tspan font-style="italic">P &lt;</tspan> 0.0001</text>
<text transform="translate(436.5,129.7) scale(1.0,1)" font-size="14.63" font-weight="normal" font-style="normal" text-anchor="middle" >(<tspan font-style="italic">P &lt;</tspan> 0.0001)</text>
<line x1="309.8" y1="138.2" x2="563.2" y2="138.2" stroke="#000" stroke-width="1.6"/>
<text transform="translate(238.0,165.1) scale(1.0,1)" font-size="15.67" font-weight="bold" font-style="normal" text-anchor="middle" ><tspan font-style="italic">P =</tspan> 0.002</text>
<text transform="translate(238.0,182.5) scale(1.0,1)" font-size="14.63" font-weight="normal" font-style="normal" text-anchor="middle" >(<tspan font-style="italic">P =</tspan> 0.004)</text>
<line x1="177.8" y1="191.7" x2="297.3" y2="191.7" stroke="#000" stroke-width="1.6"/>
<text transform="translate(370.8,165.1) scale(1.0,1)" font-size="15.67" font-weight="bold" font-style="normal" text-anchor="middle" ><tspan font-style="italic">P &lt;</tspan> 0.0001</text>
<text transform="translate(370.8,182.5) scale(1.0,1)" font-size="14.63" font-weight="normal" font-style="normal" text-anchor="middle" >(<tspan font-style="italic">P &lt;</tspan> 0.0001)</text>
<line x1="311.9" y1="191.7" x2="430.3" y2="191.7" stroke="#000" stroke-width="1.6"/>
</svg>
</body></html>
